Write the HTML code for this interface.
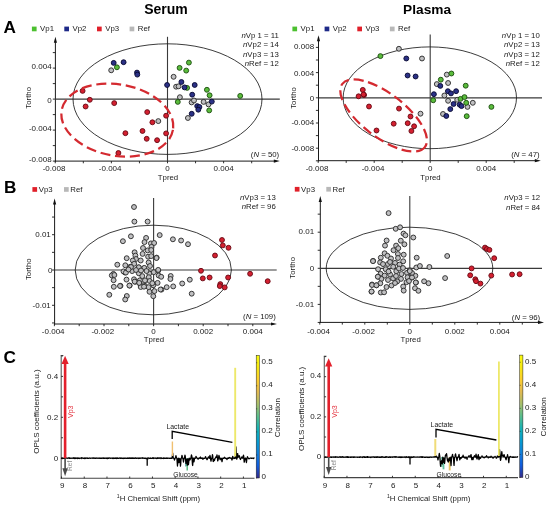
<!DOCTYPE html>
<html><head><meta charset="utf-8"><style>
html,body{margin:0;padding:0;background:#fff;}
body{width:550px;height:506px;overflow:hidden;font-family:"Liberation Sans",sans-serif;}
svg{display:block;will-change:transform;}
</style></head><body>
<svg width="550" height="506" viewBox="0 0 550 506" font-family="&quot;Liberation Sans&quot;, sans-serif">
<rect width="550" height="506" fill="#ffffff"/>
<text x="166" y="14.2" font-size="14" text-anchor="middle" font-weight="bold" fill="#000">Serum</text>
<text x="427.1" y="13.7" font-size="13.7" text-anchor="middle" font-weight="bold" fill="#000">Plasma</text>
<text x="3.4" y="32.7" font-size="17.2" text-anchor="start" font-weight="bold" fill="#000">A</text>
<text x="4" y="193.2" font-size="17.2" text-anchor="start" font-weight="bold" fill="#000">B</text>
<text x="3.6" y="362.9" font-size="17.2" text-anchor="start" font-weight="bold" fill="#000">C</text>
<line x1="55.4" y1="161.6" x2="55.4" y2="40.8" stroke="#1a1a1a" stroke-width="1"/>
<path d="M55.4 36.8 L53.8 42.8 L57 42.8 Z" fill="#111"/>
<line x1="54.9" y1="161.1" x2="275.8" y2="161.1" stroke="#1a1a1a" stroke-width="1"/>
<path d="M279.8 161.1 L273.8 159.5 L273.8 162.7 Z" fill="#111"/>
<line x1="52.8" y1="161.1" x2="55.4" y2="161.1" stroke="#1a1a1a" stroke-width="0.9"/>
<line x1="52.8" y1="145.6" x2="55.4" y2="145.6" stroke="#1a1a1a" stroke-width="0.9"/>
<line x1="52.8" y1="130.1" x2="55.4" y2="130.1" stroke="#1a1a1a" stroke-width="0.9"/>
<line x1="52.8" y1="114.6" x2="55.4" y2="114.6" stroke="#1a1a1a" stroke-width="0.9"/>
<line x1="52.8" y1="99.1" x2="55.4" y2="99.1" stroke="#1a1a1a" stroke-width="0.9"/>
<line x1="52.8" y1="83.6" x2="55.4" y2="83.6" stroke="#1a1a1a" stroke-width="0.9"/>
<line x1="52.8" y1="68.1" x2="55.4" y2="68.1" stroke="#1a1a1a" stroke-width="0.9"/>
<line x1="52.8" y1="52.6" x2="55.4" y2="52.6" stroke="#1a1a1a" stroke-width="0.9"/>
<text x="51.6" y="69.35" font-size="8" text-anchor="end" font-weight="normal" fill="#1a1a1a">0.004</text>
<text x="51.6" y="102.85" font-size="8" text-anchor="end" font-weight="normal" fill="#1a1a1a">0</text>
<text x="51.6" y="131.25" font-size="8" text-anchor="end" font-weight="normal" fill="#1a1a1a">-0.004</text>
<text x="51.6" y="162.25" font-size="8" text-anchor="end" font-weight="normal" fill="#1a1a1a">-0.008</text>
<line x1="55.26" y1="161.1" x2="55.26" y2="163.3" stroke="#1a1a1a" stroke-width="0.9"/>
<line x1="83.32" y1="161.1" x2="83.32" y2="163.3" stroke="#1a1a1a" stroke-width="0.9"/>
<line x1="111.38" y1="161.1" x2="111.38" y2="163.3" stroke="#1a1a1a" stroke-width="0.9"/>
<line x1="139.44" y1="161.1" x2="139.44" y2="163.3" stroke="#1a1a1a" stroke-width="0.9"/>
<line x1="167.5" y1="161.1" x2="167.5" y2="163.3" stroke="#1a1a1a" stroke-width="0.9"/>
<line x1="195.56" y1="161.1" x2="195.56" y2="163.3" stroke="#1a1a1a" stroke-width="0.9"/>
<line x1="223.62" y1="161.1" x2="223.62" y2="163.3" stroke="#1a1a1a" stroke-width="0.9"/>
<line x1="251.68" y1="161.1" x2="251.68" y2="163.3" stroke="#1a1a1a" stroke-width="0.9"/>
<text x="54.06" y="170.7" font-size="8" text-anchor="middle" font-weight="normal" fill="#1a1a1a">-0.008</text>
<text x="110.18" y="170.7" font-size="8" text-anchor="middle" font-weight="normal" fill="#1a1a1a">-0.004</text>
<text x="167.5" y="170.7" font-size="8" text-anchor="middle" font-weight="normal" fill="#1a1a1a">0</text>
<text x="223.62" y="170.7" font-size="8" text-anchor="middle" font-weight="normal" fill="#1a1a1a">0.004</text>
<line x1="55.4" y1="99.1" x2="279.8" y2="99.1" stroke="#3a3a3a" stroke-width="1.15"/>
<line x1="167.5" y1="36.8" x2="167.5" y2="161.1" stroke="#3a3a3a" stroke-width="1.1"/>
<ellipse cx="167.5" cy="99.1" rx="94.5" ry="55.3" fill="none" stroke="#1a1a1a" stroke-width="0.85"/>
<text x="31.2" y="97.8" font-size="7.8" text-anchor="middle" font-weight="normal" fill="#1a1a1a" transform="rotate(-90 31.2 97.8)">Tortho</text>
<text x="168" y="179.7" font-size="7.8" text-anchor="middle" font-weight="normal" fill="#1a1a1a">Tpred</text>
<rect x="31.9" y="26.6" width="4.7" height="4.7" fill="#4cc030"/>
<text x="40.1" y="31.2" font-size="7.8" text-anchor="start" font-weight="normal" fill="#1a1a1a">Vp1</text>
<rect x="64.3" y="26.6" width="4.7" height="4.7" fill="#1e2a88"/>
<text x="72.5" y="31.2" font-size="7.8" text-anchor="start" font-weight="normal" fill="#1a1a1a">Vp2</text>
<rect x="97" y="26.6" width="4.7" height="4.7" fill="#e0202a"/>
<text x="105.2" y="31.2" font-size="7.8" text-anchor="start" font-weight="normal" fill="#1a1a1a">Vp3</text>
<rect x="129.6" y="26.6" width="4.7" height="4.7" fill="#b8b8b8"/>
<text x="137.8" y="31.2" font-size="7.8" text-anchor="start" font-weight="normal" fill="#1a1a1a">Ref</text>
<text x="278.8" y="37.8" font-size="7.8" text-anchor="end" fill="#1a1a1a"><tspan font-style="italic">n</tspan>Vp 1 = 11</text>
<text x="278.8" y="47.2" font-size="7.8" text-anchor="end" fill="#1a1a1a"><tspan font-style="italic">n</tspan>Vp2 = 14</text>
<text x="278.8" y="56.6" font-size="7.8" text-anchor="end" fill="#1a1a1a"><tspan font-style="italic">n</tspan>Vp3 = 13</text>
<text x="278.8" y="66" font-size="7.8" text-anchor="end" fill="#1a1a1a"><tspan font-style="italic">n</tspan>Ref = 12</text>
<text x="279.2" y="157.3" font-size="7.8" text-anchor="end" fill="#1a1a1a">(<tspan font-style="italic">N</tspan> = 50)</text>
<circle cx="82.6" cy="90.9" r="2.45" fill="#d42030" stroke="#6a0a14" stroke-width="0.95"/>
<circle cx="89.8" cy="99.8" r="2.45" fill="#d42030" stroke="#6a0a14" stroke-width="0.95"/>
<circle cx="85.6" cy="106.5" r="2.45" fill="#d42030" stroke="#6a0a14" stroke-width="0.95"/>
<circle cx="114.2" cy="103.1" r="2.45" fill="#d42030" stroke="#6a0a14" stroke-width="0.95"/>
<circle cx="147.2" cy="112.1" r="2.45" fill="#d42030" stroke="#6a0a14" stroke-width="0.95"/>
<circle cx="166.1" cy="115.7" r="2.45" fill="#d42030" stroke="#6a0a14" stroke-width="0.95"/>
<circle cx="152.4" cy="122.3" r="2.45" fill="#d42030" stroke="#6a0a14" stroke-width="0.95"/>
<circle cx="125.4" cy="133.2" r="2.45" fill="#d42030" stroke="#6a0a14" stroke-width="0.95"/>
<circle cx="142.5" cy="131" r="2.45" fill="#d42030" stroke="#6a0a14" stroke-width="0.95"/>
<circle cx="166.1" cy="133.4" r="2.45" fill="#d42030" stroke="#6a0a14" stroke-width="0.95"/>
<circle cx="146.7" cy="138.8" r="2.45" fill="#d42030" stroke="#6a0a14" stroke-width="0.95"/>
<circle cx="157.1" cy="140.2" r="2.45" fill="#d42030" stroke="#6a0a14" stroke-width="0.95"/>
<circle cx="118.4" cy="153" r="2.45" fill="#d42030" stroke="#6a0a14" stroke-width="0.95"/>
<circle cx="111.2" cy="70.3" r="2.45" fill="#c0c0c2" stroke="#2e2e2e" stroke-width="0.95"/>
<circle cx="158.3" cy="121.1" r="2.45" fill="#c0c0c2" stroke="#2e2e2e" stroke-width="0.95"/>
<circle cx="173.6" cy="76.8" r="2.45" fill="#c0c0c2" stroke="#2e2e2e" stroke-width="0.95"/>
<circle cx="176.1" cy="86.7" r="2.45" fill="#c0c0c2" stroke="#2e2e2e" stroke-width="0.95"/>
<circle cx="178.6" cy="86.3" r="2.45" fill="#c0c0c2" stroke="#2e2e2e" stroke-width="0.95"/>
<circle cx="179.9" cy="97.2" r="2.45" fill="#c0c0c2" stroke="#2e2e2e" stroke-width="0.95"/>
<circle cx="191.6" cy="102.4" r="2.45" fill="#c0c0c2" stroke="#2e2e2e" stroke-width="0.95"/>
<circle cx="194" cy="100.5" r="2.45" fill="#c0c0c2" stroke="#2e2e2e" stroke-width="0.95"/>
<circle cx="203.6" cy="101.9" r="2.45" fill="#c0c0c2" stroke="#2e2e2e" stroke-width="0.95"/>
<circle cx="208.5" cy="104.4" r="2.45" fill="#c0c0c2" stroke="#2e2e2e" stroke-width="0.95"/>
<circle cx="187.9" cy="118" r="2.45" fill="#c0c0c2" stroke="#2e2e2e" stroke-width="0.95"/>
<circle cx="116.9" cy="67.3" r="2.45" fill="#5abc3c" stroke="#1d5010" stroke-width="0.95"/>
<circle cx="188.9" cy="62.6" r="2.45" fill="#5abc3c" stroke="#1d5010" stroke-width="0.95"/>
<circle cx="179.6" cy="67.9" r="2.45" fill="#5abc3c" stroke="#1d5010" stroke-width="0.95"/>
<circle cx="186.2" cy="70.6" r="2.45" fill="#5abc3c" stroke="#1d5010" stroke-width="0.95"/>
<circle cx="187.1" cy="87.9" r="2.45" fill="#5abc3c" stroke="#1d5010" stroke-width="0.95"/>
<circle cx="206.9" cy="89.8" r="2.45" fill="#5abc3c" stroke="#1d5010" stroke-width="0.95"/>
<circle cx="209.6" cy="95.3" r="2.45" fill="#5abc3c" stroke="#1d5010" stroke-width="0.95"/>
<circle cx="177.8" cy="101.9" r="2.45" fill="#5abc3c" stroke="#1d5010" stroke-width="0.95"/>
<circle cx="209.2" cy="110.4" r="2.45" fill="#5abc3c" stroke="#1d5010" stroke-width="0.95"/>
<circle cx="240.2" cy="95.9" r="2.45" fill="#5abc3c" stroke="#1d5010" stroke-width="0.95"/>
<circle cx="113.7" cy="62.9" r="2.45" fill="#2b3186" stroke="#080a34" stroke-width="0.95"/>
<circle cx="123.6" cy="62.2" r="2.45" fill="#2b3186" stroke="#080a34" stroke-width="0.95"/>
<circle cx="137" cy="72.6" r="2.45" fill="#2b3186" stroke="#080a34" stroke-width="0.95"/>
<circle cx="137.3" cy="74.6" r="2.45" fill="#2b3186" stroke="#080a34" stroke-width="0.95"/>
<circle cx="167.1" cy="85" r="2.45" fill="#2b3186" stroke="#080a34" stroke-width="0.95"/>
<circle cx="181.4" cy="82" r="2.45" fill="#2b3186" stroke="#080a34" stroke-width="0.95"/>
<circle cx="184.6" cy="87.4" r="2.45" fill="#2b3186" stroke="#080a34" stroke-width="0.95"/>
<circle cx="194.7" cy="85" r="2.45" fill="#2b3186" stroke="#080a34" stroke-width="0.95"/>
<circle cx="192.2" cy="94.7" r="2.45" fill="#2b3186" stroke="#080a34" stroke-width="0.95"/>
<circle cx="211.8" cy="101.6" r="2.45" fill="#2b3186" stroke="#080a34" stroke-width="0.95"/>
<circle cx="197.2" cy="106.1" r="2.45" fill="#2b3186" stroke="#080a34" stroke-width="0.95"/>
<circle cx="199.4" cy="107" r="2.45" fill="#2b3186" stroke="#080a34" stroke-width="0.95"/>
<circle cx="198.3" cy="109.7" r="2.45" fill="#2b3186" stroke="#080a34" stroke-width="0.95"/>
<circle cx="191.7" cy="113.8" r="2.45" fill="#2b3186" stroke="#080a34" stroke-width="0.95"/>
<ellipse cx="117.3" cy="120.1" rx="56.5" ry="35.7" transform="rotate(10 117.3 120.1)" fill="none" stroke="#d42a30" stroke-width="2.25" stroke-dasharray="10 4.8"/>
<line x1="318.5" y1="161.2" x2="318.5" y2="39.3" stroke="#1a1a1a" stroke-width="1"/>
<path d="M318.5 35.3 L316.9 41.3 L320.1 41.3 Z" fill="#111"/>
<line x1="318" y1="160.7" x2="536.8" y2="160.7" stroke="#1a1a1a" stroke-width="1"/>
<path d="M540.8 160.7 L534.8 159.1 L534.8 162.3 Z" fill="#111"/>
<line x1="315.9" y1="160.8" x2="318.5" y2="160.8" stroke="#1a1a1a" stroke-width="0.9"/>
<line x1="315.9" y1="148.2" x2="318.5" y2="148.2" stroke="#1a1a1a" stroke-width="0.9"/>
<line x1="315.9" y1="135.6" x2="318.5" y2="135.6" stroke="#1a1a1a" stroke-width="0.9"/>
<line x1="315.9" y1="123" x2="318.5" y2="123" stroke="#1a1a1a" stroke-width="0.9"/>
<line x1="315.9" y1="110.4" x2="318.5" y2="110.4" stroke="#1a1a1a" stroke-width="0.9"/>
<line x1="315.9" y1="97.8" x2="318.5" y2="97.8" stroke="#1a1a1a" stroke-width="0.9"/>
<line x1="315.9" y1="85.2" x2="318.5" y2="85.2" stroke="#1a1a1a" stroke-width="0.9"/>
<line x1="315.9" y1="72.6" x2="318.5" y2="72.6" stroke="#1a1a1a" stroke-width="0.9"/>
<line x1="315.9" y1="60" x2="318.5" y2="60" stroke="#1a1a1a" stroke-width="0.9"/>
<line x1="315.9" y1="47.4" x2="318.5" y2="47.4" stroke="#1a1a1a" stroke-width="0.9"/>
<text x="314.1" y="49.15" font-size="8" text-anchor="end" font-weight="normal" fill="#1a1a1a">0.008</text>
<text x="314.1" y="75.65" font-size="8" text-anchor="end" font-weight="normal" fill="#1a1a1a">0.004</text>
<text x="314.1" y="100.95" font-size="8" text-anchor="end" font-weight="normal" fill="#1a1a1a">0</text>
<text x="314.1" y="124.65" font-size="8" text-anchor="end" font-weight="normal" fill="#1a1a1a">-0.004</text>
<text x="314.1" y="150.65" font-size="8" text-anchor="end" font-weight="normal" fill="#1a1a1a">-0.008</text>
<line x1="318.2" y1="160.7" x2="318.2" y2="162.9" stroke="#1a1a1a" stroke-width="0.9"/>
<line x1="346.2" y1="160.7" x2="346.2" y2="162.9" stroke="#1a1a1a" stroke-width="0.9"/>
<line x1="374.2" y1="160.7" x2="374.2" y2="162.9" stroke="#1a1a1a" stroke-width="0.9"/>
<line x1="402.2" y1="160.7" x2="402.2" y2="162.9" stroke="#1a1a1a" stroke-width="0.9"/>
<line x1="430.2" y1="160.7" x2="430.2" y2="162.9" stroke="#1a1a1a" stroke-width="0.9"/>
<line x1="458.2" y1="160.7" x2="458.2" y2="162.9" stroke="#1a1a1a" stroke-width="0.9"/>
<line x1="486.2" y1="160.7" x2="486.2" y2="162.9" stroke="#1a1a1a" stroke-width="0.9"/>
<line x1="514.2" y1="160.7" x2="514.2" y2="162.9" stroke="#1a1a1a" stroke-width="0.9"/>
<text x="317" y="170.7" font-size="8" text-anchor="middle" font-weight="normal" fill="#1a1a1a">-0.008</text>
<text x="373" y="170.7" font-size="8" text-anchor="middle" font-weight="normal" fill="#1a1a1a">-0.004</text>
<text x="430.2" y="170.7" font-size="8" text-anchor="middle" font-weight="normal" fill="#1a1a1a">0</text>
<text x="486.2" y="170.7" font-size="8" text-anchor="middle" font-weight="normal" fill="#1a1a1a">0.004</text>
<line x1="318.5" y1="97.8" x2="542" y2="97.8" stroke="#3a3a3a" stroke-width="1.15"/>
<line x1="430.2" y1="34.6" x2="430.2" y2="160.7" stroke="#3a3a3a" stroke-width="1.1"/>
<ellipse cx="429.8" cy="97.8" rx="86.7" ry="50.9" fill="none" stroke="#1a1a1a" stroke-width="0.85"/>
<text x="295.8" y="98" font-size="7.8" text-anchor="middle" font-weight="normal" fill="#1a1a1a" transform="rotate(-90 295.8 98)">Tortho</text>
<text x="430.5" y="179.5" font-size="7.8" text-anchor="middle" font-weight="normal" fill="#1a1a1a">Tpred</text>
<rect x="292.4" y="26.6" width="4.7" height="4.7" fill="#4cc030"/>
<text x="300.6" y="31.2" font-size="7.8" text-anchor="start" font-weight="normal" fill="#1a1a1a">Vp1</text>
<rect x="324.6" y="26.6" width="4.7" height="4.7" fill="#1e2a88"/>
<text x="332.8" y="31.2" font-size="7.8" text-anchor="start" font-weight="normal" fill="#1a1a1a">Vp2</text>
<rect x="357.3" y="26.6" width="4.7" height="4.7" fill="#e0202a"/>
<text x="365.5" y="31.2" font-size="7.8" text-anchor="start" font-weight="normal" fill="#1a1a1a">Vp3</text>
<rect x="389.9" y="26.6" width="4.7" height="4.7" fill="#b8b8b8"/>
<text x="398.1" y="31.2" font-size="7.8" text-anchor="start" font-weight="normal" fill="#1a1a1a">Ref</text>
<text x="539.8" y="37.8" font-size="7.8" text-anchor="end" fill="#1a1a1a"><tspan font-style="italic">n</tspan>Vp 1 = 10</text>
<text x="539.8" y="47.2" font-size="7.8" text-anchor="end" fill="#1a1a1a"><tspan font-style="italic">n</tspan>Vp2 = 13</text>
<text x="539.8" y="56.6" font-size="7.8" text-anchor="end" fill="#1a1a1a"><tspan font-style="italic">n</tspan>Vp3 = 12</text>
<text x="539.8" y="66" font-size="7.8" text-anchor="end" fill="#1a1a1a"><tspan font-style="italic">n</tspan>Ref = 12</text>
<text x="539.6" y="157.4" font-size="7.8" text-anchor="end" fill="#1a1a1a">(<tspan font-style="italic">N</tspan> = 47)</text>
<circle cx="362.8" cy="89.9" r="2.45" fill="#d42030" stroke="#6a0a14" stroke-width="0.95"/>
<circle cx="358.6" cy="96.3" r="2.45" fill="#d42030" stroke="#6a0a14" stroke-width="0.95"/>
<circle cx="364.1" cy="95" r="2.45" fill="#d42030" stroke="#6a0a14" stroke-width="0.95"/>
<circle cx="369" cy="106.5" r="2.45" fill="#d42030" stroke="#6a0a14" stroke-width="0.95"/>
<circle cx="399" cy="108.6" r="2.45" fill="#d42030" stroke="#6a0a14" stroke-width="0.95"/>
<circle cx="410.5" cy="116.5" r="2.45" fill="#d42030" stroke="#6a0a14" stroke-width="0.95"/>
<circle cx="393.7" cy="123.7" r="2.45" fill="#d42030" stroke="#6a0a14" stroke-width="0.95"/>
<circle cx="407.7" cy="123.2" r="2.45" fill="#d42030" stroke="#6a0a14" stroke-width="0.95"/>
<circle cx="414.1" cy="126.3" r="2.45" fill="#d42030" stroke="#6a0a14" stroke-width="0.95"/>
<circle cx="411.4" cy="131" r="2.45" fill="#d42030" stroke="#6a0a14" stroke-width="0.95"/>
<circle cx="376.5" cy="130.5" r="2.45" fill="#d42030" stroke="#6a0a14" stroke-width="0.95"/>
<circle cx="363.5" cy="94.5" r="2.45" fill="#d42030" stroke="#6a0a14" stroke-width="0.95"/>
<circle cx="398.9" cy="48.8" r="2.45" fill="#c0c0c2" stroke="#2e2e2e" stroke-width="0.95"/>
<circle cx="422" cy="58.5" r="2.45" fill="#c0c0c2" stroke="#2e2e2e" stroke-width="0.95"/>
<circle cx="446.8" cy="74.6" r="2.45" fill="#c0c0c2" stroke="#2e2e2e" stroke-width="0.95"/>
<circle cx="436.8" cy="84.1" r="2.45" fill="#c0c0c2" stroke="#2e2e2e" stroke-width="0.95"/>
<circle cx="448.1" cy="83" r="2.45" fill="#c0c0c2" stroke="#2e2e2e" stroke-width="0.95"/>
<circle cx="444.4" cy="95.5" r="2.45" fill="#c0c0c2" stroke="#2e2e2e" stroke-width="0.95"/>
<circle cx="448.1" cy="100.8" r="2.45" fill="#c0c0c2" stroke="#2e2e2e" stroke-width="0.95"/>
<circle cx="457.2" cy="99.8" r="2.45" fill="#c0c0c2" stroke="#2e2e2e" stroke-width="0.95"/>
<circle cx="472.8" cy="102.8" r="2.45" fill="#c0c0c2" stroke="#2e2e2e" stroke-width="0.95"/>
<circle cx="467.5" cy="106.9" r="2.45" fill="#c0c0c2" stroke="#2e2e2e" stroke-width="0.95"/>
<circle cx="443" cy="114" r="2.45" fill="#c0c0c2" stroke="#2e2e2e" stroke-width="0.95"/>
<circle cx="420.5" cy="113.7" r="2.45" fill="#c0c0c2" stroke="#2e2e2e" stroke-width="0.95"/>
<circle cx="380.4" cy="56.1" r="2.45" fill="#5abc3c" stroke="#1d5010" stroke-width="0.95"/>
<circle cx="451.4" cy="73.5" r="2.45" fill="#5abc3c" stroke="#1d5010" stroke-width="0.95"/>
<circle cx="440.8" cy="79.7" r="2.45" fill="#5abc3c" stroke="#1d5010" stroke-width="0.95"/>
<circle cx="465.7" cy="85.7" r="2.45" fill="#5abc3c" stroke="#1d5010" stroke-width="0.95"/>
<circle cx="433.2" cy="100.3" r="2.45" fill="#5abc3c" stroke="#1d5010" stroke-width="0.95"/>
<circle cx="460.5" cy="98.9" r="2.45" fill="#5abc3c" stroke="#1d5010" stroke-width="0.95"/>
<circle cx="464.5" cy="97.1" r="2.45" fill="#5abc3c" stroke="#1d5010" stroke-width="0.95"/>
<circle cx="466.2" cy="102.8" r="2.45" fill="#5abc3c" stroke="#1d5010" stroke-width="0.95"/>
<circle cx="466.7" cy="116.2" r="2.45" fill="#5abc3c" stroke="#1d5010" stroke-width="0.95"/>
<circle cx="491.4" cy="106.9" r="2.45" fill="#5abc3c" stroke="#1d5010" stroke-width="0.95"/>
<circle cx="406.3" cy="58.5" r="2.45" fill="#2b3186" stroke="#080a34" stroke-width="0.95"/>
<circle cx="407.6" cy="75.5" r="2.45" fill="#2b3186" stroke="#080a34" stroke-width="0.95"/>
<circle cx="415.6" cy="76.5" r="2.45" fill="#2b3186" stroke="#080a34" stroke-width="0.95"/>
<circle cx="440.3" cy="85.9" r="2.45" fill="#2b3186" stroke="#080a34" stroke-width="0.95"/>
<circle cx="447.9" cy="91.2" r="2.45" fill="#2b3186" stroke="#080a34" stroke-width="0.95"/>
<circle cx="451" cy="93.4" r="2.45" fill="#2b3186" stroke="#080a34" stroke-width="0.95"/>
<circle cx="456.1" cy="91.2" r="2.45" fill="#2b3186" stroke="#080a34" stroke-width="0.95"/>
<circle cx="433.9" cy="94.2" r="2.45" fill="#2b3186" stroke="#080a34" stroke-width="0.95"/>
<circle cx="453.6" cy="104" r="2.45" fill="#2b3186" stroke="#080a34" stroke-width="0.95"/>
<circle cx="459.7" cy="104.7" r="2.45" fill="#2b3186" stroke="#080a34" stroke-width="0.95"/>
<circle cx="461.5" cy="106.1" r="2.45" fill="#2b3186" stroke="#080a34" stroke-width="0.95"/>
<circle cx="450.3" cy="109.1" r="2.45" fill="#2b3186" stroke="#080a34" stroke-width="0.95"/>
<circle cx="446.3" cy="116" r="2.45" fill="#2b3186" stroke="#080a34" stroke-width="0.95"/>
<ellipse cx="383.6" cy="115.5" rx="52" ry="21.8" transform="rotate(37.5 383.6 115.5)" fill="none" stroke="#d42a30" stroke-width="2.25" stroke-dasharray="10 4.8"/>
<line x1="54.6" y1="324.5" x2="54.6" y2="202.5" stroke="#1a1a1a" stroke-width="1"/>
<path d="M54.6 198.5 L53 204.5 L56.2 204.5 Z" fill="#111"/>
<line x1="54.1" y1="324" x2="273" y2="324" stroke="#1a1a1a" stroke-width="1"/>
<path d="M277 324 L271 322.4 L271 325.6 Z" fill="#111"/>
<line x1="52" y1="322.95" x2="54.6" y2="322.95" stroke="#1a1a1a" stroke-width="0.9"/>
<line x1="52" y1="305.3" x2="54.6" y2="305.3" stroke="#1a1a1a" stroke-width="0.9"/>
<line x1="52" y1="287.65" x2="54.6" y2="287.65" stroke="#1a1a1a" stroke-width="0.9"/>
<line x1="52" y1="270" x2="54.6" y2="270" stroke="#1a1a1a" stroke-width="0.9"/>
<line x1="52" y1="252.35" x2="54.6" y2="252.35" stroke="#1a1a1a" stroke-width="0.9"/>
<line x1="52" y1="234.7" x2="54.6" y2="234.7" stroke="#1a1a1a" stroke-width="0.9"/>
<line x1="52" y1="217.05" x2="54.6" y2="217.05" stroke="#1a1a1a" stroke-width="0.9"/>
<text x="50.8" y="236.75" font-size="8" text-anchor="end" font-weight="normal" fill="#1a1a1a">0.01</text>
<text x="52.4" y="272.85" font-size="8" text-anchor="end" font-weight="normal" fill="#1a1a1a">0</text>
<text x="50.8" y="308.15" font-size="8" text-anchor="end" font-weight="normal" fill="#1a1a1a">-0.01</text>
<line x1="54.4" y1="324" x2="54.4" y2="326.2" stroke="#1a1a1a" stroke-width="0.9"/>
<line x1="79.2" y1="324" x2="79.2" y2="326.2" stroke="#1a1a1a" stroke-width="0.9"/>
<line x1="104" y1="324" x2="104" y2="326.2" stroke="#1a1a1a" stroke-width="0.9"/>
<line x1="128.8" y1="324" x2="128.8" y2="326.2" stroke="#1a1a1a" stroke-width="0.9"/>
<line x1="153.6" y1="324" x2="153.6" y2="326.2" stroke="#1a1a1a" stroke-width="0.9"/>
<line x1="178.4" y1="324" x2="178.4" y2="326.2" stroke="#1a1a1a" stroke-width="0.9"/>
<line x1="203.2" y1="324" x2="203.2" y2="326.2" stroke="#1a1a1a" stroke-width="0.9"/>
<line x1="228" y1="324" x2="228" y2="326.2" stroke="#1a1a1a" stroke-width="0.9"/>
<line x1="252.8" y1="324" x2="252.8" y2="326.2" stroke="#1a1a1a" stroke-width="0.9"/>
<text x="53.2" y="334.1" font-size="8" text-anchor="middle" font-weight="normal" fill="#1a1a1a">-0.004</text>
<text x="102.8" y="334.1" font-size="8" text-anchor="middle" font-weight="normal" fill="#1a1a1a">-0.002</text>
<text x="153.6" y="334.1" font-size="8" text-anchor="middle" font-weight="normal" fill="#1a1a1a">0</text>
<text x="203.2" y="334.1" font-size="8" text-anchor="middle" font-weight="normal" fill="#1a1a1a">0.002</text>
<text x="252.8" y="334.1" font-size="8" text-anchor="middle" font-weight="normal" fill="#1a1a1a">0.004</text>
<line x1="54.6" y1="270" x2="276.7" y2="270" stroke="#3a3a3a" stroke-width="1.15"/>
<line x1="153.6" y1="198" x2="153.6" y2="324" stroke="#3a3a3a" stroke-width="1.1"/>
<ellipse cx="153.3" cy="270" rx="78.1" ry="44.8" fill="none" stroke="#1a1a1a" stroke-width="0.85"/>
<text x="31.4" y="269.2" font-size="7.8" text-anchor="middle" font-weight="normal" fill="#1a1a1a" transform="rotate(-90 31.4 269.2)">Tortho</text>
<text x="154" y="342.3" font-size="7.8" text-anchor="middle" font-weight="normal" fill="#1a1a1a">Tpred</text>
<rect x="32.4" y="187.1" width="4.7" height="4.7" fill="#e0202a"/>
<text x="38.7" y="191.7" font-size="7.8" text-anchor="start" font-weight="normal" fill="#1a1a1a">Vp3</text>
<rect x="64" y="187.1" width="4.7" height="4.7" fill="#b8b8b8"/>
<text x="70.3" y="191.7" font-size="7.8" text-anchor="start" font-weight="normal" fill="#1a1a1a">Ref</text>
<text x="275.8" y="200" font-size="7.8" text-anchor="end" fill="#1a1a1a"><tspan font-style="italic">n</tspan>Vp3 = 13</text>
<text x="275.8" y="209.4" font-size="7.8" text-anchor="end" fill="#1a1a1a"><tspan font-style="italic">n</tspan>Ref = 96</text>
<text x="275.8" y="319.2" font-size="7.8" text-anchor="end" fill="#1a1a1a">(<tspan font-style="italic">N</tspan> = 109)</text>
<circle cx="134" cy="207" r="2.45" fill="#c0c0c2" stroke="#2e2e2e" stroke-width="0.95"/>
<circle cx="134.4" cy="221.6" r="2.45" fill="#c0c0c2" stroke="#2e2e2e" stroke-width="0.95"/>
<circle cx="147.6" cy="221.6" r="2.45" fill="#c0c0c2" stroke="#2e2e2e" stroke-width="0.95"/>
<circle cx="130.9" cy="236.3" r="2.45" fill="#c0c0c2" stroke="#2e2e2e" stroke-width="0.95"/>
<circle cx="122.9" cy="241.2" r="2.45" fill="#c0c0c2" stroke="#2e2e2e" stroke-width="0.95"/>
<circle cx="146.1" cy="237.9" r="2.45" fill="#c0c0c2" stroke="#2e2e2e" stroke-width="0.95"/>
<circle cx="144.5" cy="242.1" r="2.45" fill="#c0c0c2" stroke="#2e2e2e" stroke-width="0.95"/>
<circle cx="159.7" cy="235.1" r="2.45" fill="#c0c0c2" stroke="#2e2e2e" stroke-width="0.95"/>
<circle cx="172.9" cy="239.3" r="2.45" fill="#c0c0c2" stroke="#2e2e2e" stroke-width="0.95"/>
<circle cx="181.1" cy="240.5" r="2.45" fill="#c0c0c2" stroke="#2e2e2e" stroke-width="0.95"/>
<circle cx="188" cy="244.2" r="2.45" fill="#c0c0c2" stroke="#2e2e2e" stroke-width="0.95"/>
<circle cx="150.9" cy="243.4" r="2.45" fill="#c0c0c2" stroke="#2e2e2e" stroke-width="0.95"/>
<circle cx="154.1" cy="243" r="2.45" fill="#c0c0c2" stroke="#2e2e2e" stroke-width="0.95"/>
<circle cx="151.5" cy="246.9" r="2.45" fill="#c0c0c2" stroke="#2e2e2e" stroke-width="0.95"/>
<circle cx="147.7" cy="250.4" r="2.45" fill="#c0c0c2" stroke="#2e2e2e" stroke-width="0.95"/>
<circle cx="134.6" cy="252.3" r="2.45" fill="#c0c0c2" stroke="#2e2e2e" stroke-width="0.95"/>
<circle cx="142.6" cy="253.9" r="2.45" fill="#c0c0c2" stroke="#2e2e2e" stroke-width="0.95"/>
<circle cx="135.4" cy="255.6" r="2.45" fill="#c0c0c2" stroke="#2e2e2e" stroke-width="0.95"/>
<circle cx="148.1" cy="256.7" r="2.45" fill="#c0c0c2" stroke="#2e2e2e" stroke-width="0.95"/>
<circle cx="151.2" cy="256.1" r="2.45" fill="#c0c0c2" stroke="#2e2e2e" stroke-width="0.95"/>
<circle cx="156.6" cy="257.6" r="2.45" fill="#c0c0c2" stroke="#2e2e2e" stroke-width="0.95"/>
<circle cx="126.7" cy="258.2" r="2.45" fill="#c0c0c2" stroke="#2e2e2e" stroke-width="0.95"/>
<circle cx="136" cy="259" r="2.45" fill="#c0c0c2" stroke="#2e2e2e" stroke-width="0.95"/>
<circle cx="140.7" cy="260.5" r="2.45" fill="#c0c0c2" stroke="#2e2e2e" stroke-width="0.95"/>
<circle cx="148.6" cy="262.5" r="2.45" fill="#c0c0c2" stroke="#2e2e2e" stroke-width="0.95"/>
<circle cx="132.8" cy="260.5" r="2.45" fill="#c0c0c2" stroke="#2e2e2e" stroke-width="0.95"/>
<circle cx="134.2" cy="263.8" r="2.45" fill="#c0c0c2" stroke="#2e2e2e" stroke-width="0.95"/>
<circle cx="125.3" cy="265.3" r="2.45" fill="#c0c0c2" stroke="#2e2e2e" stroke-width="0.95"/>
<circle cx="117.3" cy="264.7" r="2.45" fill="#c0c0c2" stroke="#2e2e2e" stroke-width="0.95"/>
<circle cx="130.3" cy="266.7" r="2.45" fill="#c0c0c2" stroke="#2e2e2e" stroke-width="0.95"/>
<circle cx="138.7" cy="267.4" r="2.45" fill="#c0c0c2" stroke="#2e2e2e" stroke-width="0.95"/>
<circle cx="144" cy="268.3" r="2.45" fill="#c0c0c2" stroke="#2e2e2e" stroke-width="0.95"/>
<circle cx="124.9" cy="272.5" r="2.45" fill="#c0c0c2" stroke="#2e2e2e" stroke-width="0.95"/>
<circle cx="132.1" cy="271.1" r="2.45" fill="#c0c0c2" stroke="#2e2e2e" stroke-width="0.95"/>
<circle cx="113.4" cy="273.9" r="2.45" fill="#c0c0c2" stroke="#2e2e2e" stroke-width="0.95"/>
<circle cx="149.2" cy="273.5" r="2.45" fill="#c0c0c2" stroke="#2e2e2e" stroke-width="0.95"/>
<circle cx="153.8" cy="272.2" r="2.45" fill="#c0c0c2" stroke="#2e2e2e" stroke-width="0.95"/>
<circle cx="158.2" cy="270.7" r="2.45" fill="#c0c0c2" stroke="#2e2e2e" stroke-width="0.95"/>
<circle cx="138.8" cy="273.3" r="2.45" fill="#c0c0c2" stroke="#2e2e2e" stroke-width="0.95"/>
<circle cx="142.3" cy="276.1" r="2.45" fill="#c0c0c2" stroke="#2e2e2e" stroke-width="0.95"/>
<circle cx="148.8" cy="277.2" r="2.45" fill="#c0c0c2" stroke="#2e2e2e" stroke-width="0.95"/>
<circle cx="158.7" cy="275.5" r="2.45" fill="#c0c0c2" stroke="#2e2e2e" stroke-width="0.95"/>
<circle cx="161.2" cy="276.8" r="2.45" fill="#c0c0c2" stroke="#2e2e2e" stroke-width="0.95"/>
<circle cx="170.7" cy="276" r="2.45" fill="#c0c0c2" stroke="#2e2e2e" stroke-width="0.95"/>
<circle cx="170.4" cy="279" r="2.45" fill="#c0c0c2" stroke="#2e2e2e" stroke-width="0.95"/>
<circle cx="111.8" cy="275.4" r="2.45" fill="#c0c0c2" stroke="#2e2e2e" stroke-width="0.95"/>
<circle cx="114.4" cy="275" r="2.45" fill="#c0c0c2" stroke="#2e2e2e" stroke-width="0.95"/>
<circle cx="113.6" cy="280.2" r="2.45" fill="#c0c0c2" stroke="#2e2e2e" stroke-width="0.95"/>
<circle cx="126.5" cy="279.6" r="2.45" fill="#c0c0c2" stroke="#2e2e2e" stroke-width="0.95"/>
<circle cx="134" cy="279.3" r="2.45" fill="#c0c0c2" stroke="#2e2e2e" stroke-width="0.95"/>
<circle cx="135.3" cy="281.8" r="2.45" fill="#c0c0c2" stroke="#2e2e2e" stroke-width="0.95"/>
<circle cx="129.7" cy="285.5" r="2.45" fill="#c0c0c2" stroke="#2e2e2e" stroke-width="0.95"/>
<circle cx="139.9" cy="283.6" r="2.45" fill="#c0c0c2" stroke="#2e2e2e" stroke-width="0.95"/>
<circle cx="140.7" cy="287" r="2.45" fill="#c0c0c2" stroke="#2e2e2e" stroke-width="0.95"/>
<circle cx="144.9" cy="285.8" r="2.45" fill="#c0c0c2" stroke="#2e2e2e" stroke-width="0.95"/>
<circle cx="148.6" cy="287.2" r="2.45" fill="#c0c0c2" stroke="#2e2e2e" stroke-width="0.95"/>
<circle cx="153.3" cy="285.3" r="2.45" fill="#c0c0c2" stroke="#2e2e2e" stroke-width="0.95"/>
<circle cx="157.6" cy="282.9" r="2.45" fill="#c0c0c2" stroke="#2e2e2e" stroke-width="0.95"/>
<circle cx="161.5" cy="289.6" r="2.45" fill="#c0c0c2" stroke="#2e2e2e" stroke-width="0.95"/>
<circle cx="166.7" cy="287.2" r="2.45" fill="#c0c0c2" stroke="#2e2e2e" stroke-width="0.95"/>
<circle cx="173.2" cy="286.4" r="2.45" fill="#c0c0c2" stroke="#2e2e2e" stroke-width="0.95"/>
<circle cx="149.5" cy="291.8" r="2.45" fill="#c0c0c2" stroke="#2e2e2e" stroke-width="0.95"/>
<circle cx="154.4" cy="291.1" r="2.45" fill="#c0c0c2" stroke="#2e2e2e" stroke-width="0.95"/>
<circle cx="153.3" cy="296.2" r="2.45" fill="#c0c0c2" stroke="#2e2e2e" stroke-width="0.95"/>
<circle cx="126.8" cy="296" r="2.45" fill="#c0c0c2" stroke="#2e2e2e" stroke-width="0.95"/>
<circle cx="125.2" cy="299.5" r="2.45" fill="#c0c0c2" stroke="#2e2e2e" stroke-width="0.95"/>
<circle cx="120.5" cy="285.8" r="2.45" fill="#c0c0c2" stroke="#2e2e2e" stroke-width="0.95"/>
<circle cx="113.8" cy="286.8" r="2.45" fill="#c0c0c2" stroke="#2e2e2e" stroke-width="0.95"/>
<circle cx="120" cy="286" r="2.45" fill="#c0c0c2" stroke="#2e2e2e" stroke-width="0.95"/>
<circle cx="109.3" cy="294.8" r="2.45" fill="#c0c0c2" stroke="#2e2e2e" stroke-width="0.95"/>
<circle cx="182.2" cy="283.5" r="2.45" fill="#c0c0c2" stroke="#2e2e2e" stroke-width="0.95"/>
<circle cx="189.8" cy="279.7" r="2.45" fill="#c0c0c2" stroke="#2e2e2e" stroke-width="0.95"/>
<circle cx="191.7" cy="293.7" r="2.45" fill="#c0c0c2" stroke="#2e2e2e" stroke-width="0.95"/>
<circle cx="158.2" cy="269.9" r="2.45" fill="#c0c0c2" stroke="#2e2e2e" stroke-width="0.95"/>
<circle cx="156.5" cy="258" r="2.45" fill="#c0c0c2" stroke="#2e2e2e" stroke-width="0.95"/>
<circle cx="145" cy="280.4" r="2.45" fill="#c0c0c2" stroke="#2e2e2e" stroke-width="0.95"/>
<circle cx="149.7" cy="281" r="2.45" fill="#c0c0c2" stroke="#2e2e2e" stroke-width="0.95"/>
<circle cx="152.3" cy="283.2" r="2.45" fill="#c0c0c2" stroke="#2e2e2e" stroke-width="0.95"/>
<circle cx="144" cy="286.7" r="2.45" fill="#c0c0c2" stroke="#2e2e2e" stroke-width="0.95"/>
<circle cx="160.5" cy="289.5" r="2.45" fill="#c0c0c2" stroke="#2e2e2e" stroke-width="0.95"/>
<circle cx="123.5" cy="271.4" r="2.45" fill="#c0c0c2" stroke="#2e2e2e" stroke-width="0.95"/>
<circle cx="125.9" cy="272.6" r="2.45" fill="#c0c0c2" stroke="#2e2e2e" stroke-width="0.95"/>
<circle cx="139.8" cy="280.4" r="2.45" fill="#c0c0c2" stroke="#2e2e2e" stroke-width="0.95"/>
<circle cx="134.7" cy="281.6" r="2.45" fill="#c0c0c2" stroke="#2e2e2e" stroke-width="0.95"/>
<circle cx="139.2" cy="282.9" r="2.45" fill="#c0c0c2" stroke="#2e2e2e" stroke-width="0.95"/>
<circle cx="144.3" cy="267.9" r="2.45" fill="#c0c0c2" stroke="#2e2e2e" stroke-width="0.95"/>
<circle cx="138.8" cy="267.3" r="2.45" fill="#c0c0c2" stroke="#2e2e2e" stroke-width="0.95"/>
<circle cx="131" cy="267" r="2.45" fill="#c0c0c2" stroke="#2e2e2e" stroke-width="0.95"/>
<circle cx="128.5" cy="269.5" r="2.45" fill="#c0c0c2" stroke="#2e2e2e" stroke-width="0.95"/>
<circle cx="136" cy="270" r="2.45" fill="#c0c0c2" stroke="#2e2e2e" stroke-width="0.95"/>
<circle cx="141" cy="270.5" r="2.45" fill="#c0c0c2" stroke="#2e2e2e" stroke-width="0.95"/>
<circle cx="146.5" cy="271" r="2.45" fill="#c0c0c2" stroke="#2e2e2e" stroke-width="0.95"/>
<circle cx="150" cy="266" r="2.45" fill="#c0c0c2" stroke="#2e2e2e" stroke-width="0.95"/>
<circle cx="129.4" cy="285.6" r="2.45" fill="#c0c0c2" stroke="#2e2e2e" stroke-width="0.95"/>
<circle cx="151.2" cy="250" r="2.45" fill="#c0c0c2" stroke="#2e2e2e" stroke-width="0.95"/>
<circle cx="143" cy="248" r="2.45" fill="#c0c0c2" stroke="#2e2e2e" stroke-width="0.95"/>
<circle cx="222" cy="240" r="2.45" fill="#d42030" stroke="#6a0a14" stroke-width="0.95"/>
<circle cx="222.8" cy="245.4" r="2.45" fill="#d42030" stroke="#6a0a14" stroke-width="0.95"/>
<circle cx="228.5" cy="247.8" r="2.45" fill="#d42030" stroke="#6a0a14" stroke-width="0.95"/>
<circle cx="215" cy="255.5" r="2.45" fill="#d42030" stroke="#6a0a14" stroke-width="0.95"/>
<circle cx="201" cy="270.8" r="2.45" fill="#d42030" stroke="#6a0a14" stroke-width="0.95"/>
<circle cx="202.8" cy="278.4" r="2.45" fill="#d42030" stroke="#6a0a14" stroke-width="0.95"/>
<circle cx="209.6" cy="277.5" r="2.45" fill="#d42030" stroke="#6a0a14" stroke-width="0.95"/>
<circle cx="228.1" cy="277.5" r="2.45" fill="#d42030" stroke="#6a0a14" stroke-width="0.95"/>
<circle cx="220.3" cy="284.1" r="2.45" fill="#d42030" stroke="#6a0a14" stroke-width="0.95"/>
<circle cx="219.8" cy="286.1" r="2.45" fill="#d42030" stroke="#6a0a14" stroke-width="0.95"/>
<circle cx="224.7" cy="287.4" r="2.45" fill="#d42030" stroke="#6a0a14" stroke-width="0.95"/>
<circle cx="250.1" cy="273.8" r="2.45" fill="#d42030" stroke="#6a0a14" stroke-width="0.95"/>
<circle cx="267.7" cy="281.2" r="2.45" fill="#d42030" stroke="#6a0a14" stroke-width="0.95"/>
<line x1="320.3" y1="322.9" x2="320.3" y2="199.9" stroke="#1a1a1a" stroke-width="1"/>
<path d="M320.3 195.9 L318.7 201.9 L321.9 201.9 Z" fill="#111"/>
<line x1="319.8" y1="322.4" x2="540" y2="322.4" stroke="#1a1a1a" stroke-width="1"/>
<path d="M544 322.4 L538 320.8 L538 324 Z" fill="#111"/>
<line x1="317.7" y1="322.45" x2="320.3" y2="322.45" stroke="#1a1a1a" stroke-width="0.9"/>
<line x1="317.7" y1="304.4" x2="320.3" y2="304.4" stroke="#1a1a1a" stroke-width="0.9"/>
<line x1="317.7" y1="286.35" x2="320.3" y2="286.35" stroke="#1a1a1a" stroke-width="0.9"/>
<line x1="317.7" y1="268.3" x2="320.3" y2="268.3" stroke="#1a1a1a" stroke-width="0.9"/>
<line x1="317.7" y1="250.25" x2="320.3" y2="250.25" stroke="#1a1a1a" stroke-width="0.9"/>
<line x1="317.7" y1="232.2" x2="320.3" y2="232.2" stroke="#1a1a1a" stroke-width="0.9"/>
<line x1="317.7" y1="214.15" x2="320.3" y2="214.15" stroke="#1a1a1a" stroke-width="0.9"/>
<text x="314.1" y="234.45" font-size="8" text-anchor="end" font-weight="normal" fill="#1a1a1a">0.01</text>
<text x="314.1" y="271.15" font-size="8" text-anchor="end" font-weight="normal" fill="#1a1a1a">0</text>
<text x="314.1" y="307.25" font-size="8" text-anchor="end" font-weight="normal" fill="#1a1a1a">-0.01</text>
<line x1="319.8" y1="322.4" x2="319.8" y2="324.6" stroke="#1a1a1a" stroke-width="0.9"/>
<line x1="342.3" y1="322.4" x2="342.3" y2="324.6" stroke="#1a1a1a" stroke-width="0.9"/>
<line x1="364.8" y1="322.4" x2="364.8" y2="324.6" stroke="#1a1a1a" stroke-width="0.9"/>
<line x1="387.3" y1="322.4" x2="387.3" y2="324.6" stroke="#1a1a1a" stroke-width="0.9"/>
<line x1="409.8" y1="322.4" x2="409.8" y2="324.6" stroke="#1a1a1a" stroke-width="0.9"/>
<line x1="432.3" y1="322.4" x2="432.3" y2="324.6" stroke="#1a1a1a" stroke-width="0.9"/>
<line x1="454.8" y1="322.4" x2="454.8" y2="324.6" stroke="#1a1a1a" stroke-width="0.9"/>
<line x1="477.3" y1="322.4" x2="477.3" y2="324.6" stroke="#1a1a1a" stroke-width="0.9"/>
<line x1="499.8" y1="322.4" x2="499.8" y2="324.6" stroke="#1a1a1a" stroke-width="0.9"/>
<line x1="522.3" y1="322.4" x2="522.3" y2="324.6" stroke="#1a1a1a" stroke-width="0.9"/>
<text x="318.6" y="334.2" font-size="8" text-anchor="middle" font-weight="normal" fill="#1a1a1a">-0.004</text>
<text x="363.6" y="334.2" font-size="8" text-anchor="middle" font-weight="normal" fill="#1a1a1a">-0.002</text>
<text x="409.8" y="334.2" font-size="8" text-anchor="middle" font-weight="normal" fill="#1a1a1a">0</text>
<text x="454.8" y="334.2" font-size="8" text-anchor="middle" font-weight="normal" fill="#1a1a1a">0.002</text>
<text x="499.8" y="334.2" font-size="8" text-anchor="middle" font-weight="normal" fill="#1a1a1a">0.004</text>
<line x1="320.3" y1="268.3" x2="542" y2="268.3" stroke="#3a3a3a" stroke-width="1.15"/>
<line x1="409.8" y1="196" x2="409.8" y2="322.4" stroke="#3a3a3a" stroke-width="1.1"/>
<ellipse cx="409.5" cy="268.3" rx="83.3" ry="41.1" fill="none" stroke="#1a1a1a" stroke-width="0.85"/>
<text x="295.5" y="267.8" font-size="7.8" text-anchor="middle" font-weight="normal" fill="#1a1a1a" transform="rotate(-90 295.5 267.8)">Tortho</text>
<text x="410.6" y="342.3" font-size="7.8" text-anchor="middle" font-weight="normal" fill="#1a1a1a">Tpred</text>
<rect x="294.8" y="186.9" width="4.7" height="4.7" fill="#e0202a"/>
<text x="301.1" y="191.5" font-size="7.8" text-anchor="start" font-weight="normal" fill="#1a1a1a">Vp3</text>
<rect x="326.3" y="186.9" width="4.7" height="4.7" fill="#b8b8b8"/>
<text x="332.6" y="191.5" font-size="7.8" text-anchor="start" font-weight="normal" fill="#1a1a1a">Ref</text>
<text x="540.1" y="200.2" font-size="7.8" text-anchor="end" fill="#1a1a1a"><tspan font-style="italic">n</tspan>Vp3 = 12</text>
<text x="540.1" y="209.6" font-size="7.8" text-anchor="end" fill="#1a1a1a"><tspan font-style="italic">n</tspan>Ref = 84</text>
<text x="540.2" y="319.5" font-size="7.8" text-anchor="end" fill="#1a1a1a">(<tspan font-style="italic">N</tspan> = 96)</text>
<circle cx="388.6" cy="213.1" r="2.45" fill="#c0c0c2" stroke="#2e2e2e" stroke-width="0.95"/>
<circle cx="395.7" cy="228.8" r="2.45" fill="#c0c0c2" stroke="#2e2e2e" stroke-width="0.95"/>
<circle cx="400.1" cy="227.3" r="2.45" fill="#c0c0c2" stroke="#2e2e2e" stroke-width="0.95"/>
<circle cx="403.5" cy="233.6" r="2.45" fill="#c0c0c2" stroke="#2e2e2e" stroke-width="0.95"/>
<circle cx="405.4" cy="235.3" r="2.45" fill="#c0c0c2" stroke="#2e2e2e" stroke-width="0.95"/>
<circle cx="413.3" cy="237.5" r="2.45" fill="#c0c0c2" stroke="#2e2e2e" stroke-width="0.95"/>
<circle cx="400.8" cy="240.7" r="2.45" fill="#c0c0c2" stroke="#2e2e2e" stroke-width="0.95"/>
<circle cx="404.4" cy="244.3" r="2.45" fill="#c0c0c2" stroke="#2e2e2e" stroke-width="0.95"/>
<circle cx="386.6" cy="240.5" r="2.45" fill="#c0c0c2" stroke="#2e2e2e" stroke-width="0.95"/>
<circle cx="385" cy="245.6" r="2.45" fill="#c0c0c2" stroke="#2e2e2e" stroke-width="0.95"/>
<circle cx="396.1" cy="245.6" r="2.45" fill="#c0c0c2" stroke="#2e2e2e" stroke-width="0.95"/>
<circle cx="398.3" cy="248.2" r="2.45" fill="#c0c0c2" stroke="#2e2e2e" stroke-width="0.95"/>
<circle cx="393.5" cy="250.2" r="2.45" fill="#c0c0c2" stroke="#2e2e2e" stroke-width="0.95"/>
<circle cx="384.6" cy="253.3" r="2.45" fill="#c0c0c2" stroke="#2e2e2e" stroke-width="0.95"/>
<circle cx="387.4" cy="255.8" r="2.45" fill="#c0c0c2" stroke="#2e2e2e" stroke-width="0.95"/>
<circle cx="397.9" cy="254" r="2.45" fill="#c0c0c2" stroke="#2e2e2e" stroke-width="0.95"/>
<circle cx="403.7" cy="254.7" r="2.45" fill="#c0c0c2" stroke="#2e2e2e" stroke-width="0.95"/>
<circle cx="380.8" cy="257.7" r="2.45" fill="#c0c0c2" stroke="#2e2e2e" stroke-width="0.95"/>
<circle cx="373.1" cy="260.9" r="2.45" fill="#c0c0c2" stroke="#2e2e2e" stroke-width="0.95"/>
<circle cx="380.1" cy="262.4" r="2.45" fill="#c0c0c2" stroke="#2e2e2e" stroke-width="0.95"/>
<circle cx="383" cy="264.1" r="2.45" fill="#c0c0c2" stroke="#2e2e2e" stroke-width="0.95"/>
<circle cx="387.9" cy="264" r="2.45" fill="#c0c0c2" stroke="#2e2e2e" stroke-width="0.95"/>
<circle cx="395" cy="262.9" r="2.45" fill="#c0c0c2" stroke="#2e2e2e" stroke-width="0.95"/>
<circle cx="403.2" cy="261.3" r="2.45" fill="#c0c0c2" stroke="#2e2e2e" stroke-width="0.95"/>
<circle cx="399.6" cy="264.6" r="2.45" fill="#c0c0c2" stroke="#2e2e2e" stroke-width="0.95"/>
<circle cx="393.2" cy="266.8" r="2.45" fill="#c0c0c2" stroke="#2e2e2e" stroke-width="0.95"/>
<circle cx="416.7" cy="257.7" r="2.45" fill="#c0c0c2" stroke="#2e2e2e" stroke-width="0.95"/>
<circle cx="447.2" cy="256" r="2.45" fill="#c0c0c2" stroke="#2e2e2e" stroke-width="0.95"/>
<circle cx="416.3" cy="267.5" r="2.45" fill="#c0c0c2" stroke="#2e2e2e" stroke-width="0.95"/>
<circle cx="419.9" cy="266" r="2.45" fill="#c0c0c2" stroke="#2e2e2e" stroke-width="0.95"/>
<circle cx="429.4" cy="267" r="2.45" fill="#c0c0c2" stroke="#2e2e2e" stroke-width="0.95"/>
<circle cx="378.1" cy="269.2" r="2.45" fill="#c0c0c2" stroke="#2e2e2e" stroke-width="0.95"/>
<circle cx="385.7" cy="269.2" r="2.45" fill="#c0c0c2" stroke="#2e2e2e" stroke-width="0.95"/>
<circle cx="396.3" cy="271.2" r="2.45" fill="#c0c0c2" stroke="#2e2e2e" stroke-width="0.95"/>
<circle cx="409.7" cy="270.3" r="2.45" fill="#c0c0c2" stroke="#2e2e2e" stroke-width="0.95"/>
<circle cx="380.6" cy="273.8" r="2.45" fill="#c0c0c2" stroke="#2e2e2e" stroke-width="0.95"/>
<circle cx="384.6" cy="275.6" r="2.45" fill="#c0c0c2" stroke="#2e2e2e" stroke-width="0.95"/>
<circle cx="390.1" cy="274.5" r="2.45" fill="#c0c0c2" stroke="#2e2e2e" stroke-width="0.95"/>
<circle cx="401.5" cy="274" r="2.45" fill="#c0c0c2" stroke="#2e2e2e" stroke-width="0.95"/>
<circle cx="407" cy="272.9" r="2.45" fill="#c0c0c2" stroke="#2e2e2e" stroke-width="0.95"/>
<circle cx="378.1" cy="276.7" r="2.45" fill="#c0c0c2" stroke="#2e2e2e" stroke-width="0.95"/>
<circle cx="381.4" cy="278.9" r="2.45" fill="#c0c0c2" stroke="#2e2e2e" stroke-width="0.95"/>
<circle cx="393.1" cy="278.4" r="2.45" fill="#c0c0c2" stroke="#2e2e2e" stroke-width="0.95"/>
<circle cx="401" cy="278.9" r="2.45" fill="#c0c0c2" stroke="#2e2e2e" stroke-width="0.95"/>
<circle cx="407.5" cy="277.3" r="2.45" fill="#c0c0c2" stroke="#2e2e2e" stroke-width="0.95"/>
<circle cx="411.9" cy="277.4" r="2.45" fill="#c0c0c2" stroke="#2e2e2e" stroke-width="0.95"/>
<circle cx="415.4" cy="275.8" r="2.45" fill="#c0c0c2" stroke="#2e2e2e" stroke-width="0.95"/>
<circle cx="397.2" cy="281.4" r="2.45" fill="#c0c0c2" stroke="#2e2e2e" stroke-width="0.95"/>
<circle cx="406.5" cy="282.2" r="2.45" fill="#c0c0c2" stroke="#2e2e2e" stroke-width="0.95"/>
<circle cx="380.3" cy="283.3" r="2.45" fill="#c0c0c2" stroke="#2e2e2e" stroke-width="0.95"/>
<circle cx="372" cy="284.5" r="2.45" fill="#c0c0c2" stroke="#2e2e2e" stroke-width="0.95"/>
<circle cx="376.5" cy="285.3" r="2.45" fill="#c0c0c2" stroke="#2e2e2e" stroke-width="0.95"/>
<circle cx="391.5" cy="285.5" r="2.45" fill="#c0c0c2" stroke="#2e2e2e" stroke-width="0.95"/>
<circle cx="403.2" cy="286.5" r="2.45" fill="#c0c0c2" stroke="#2e2e2e" stroke-width="0.95"/>
<circle cx="403.7" cy="290.6" r="2.45" fill="#c0c0c2" stroke="#2e2e2e" stroke-width="0.95"/>
<circle cx="416" cy="282.5" r="2.45" fill="#c0c0c2" stroke="#2e2e2e" stroke-width="0.95"/>
<circle cx="415" cy="288.2" r="2.45" fill="#c0c0c2" stroke="#2e2e2e" stroke-width="0.95"/>
<circle cx="418.4" cy="290.8" r="2.45" fill="#c0c0c2" stroke="#2e2e2e" stroke-width="0.95"/>
<circle cx="371.5" cy="291.6" r="2.45" fill="#c0c0c2" stroke="#2e2e2e" stroke-width="0.95"/>
<circle cx="380.8" cy="292.5" r="2.45" fill="#c0c0c2" stroke="#2e2e2e" stroke-width="0.95"/>
<circle cx="384.1" cy="292.3" r="2.45" fill="#c0c0c2" stroke="#2e2e2e" stroke-width="0.95"/>
<circle cx="424.1" cy="281.3" r="2.45" fill="#c0c0c2" stroke="#2e2e2e" stroke-width="0.95"/>
<circle cx="428.5" cy="283.2" r="2.45" fill="#c0c0c2" stroke="#2e2e2e" stroke-width="0.95"/>
<circle cx="445.1" cy="278.1" r="2.45" fill="#c0c0c2" stroke="#2e2e2e" stroke-width="0.95"/>
<circle cx="373" cy="261.1" r="2.45" fill="#c0c0c2" stroke="#2e2e2e" stroke-width="0.95"/>
<circle cx="377.8" cy="276.7" r="2.45" fill="#c0c0c2" stroke="#2e2e2e" stroke-width="0.95"/>
<circle cx="388" cy="280" r="2.45" fill="#c0c0c2" stroke="#2e2e2e" stroke-width="0.95"/>
<circle cx="395" cy="283" r="2.45" fill="#c0c0c2" stroke="#2e2e2e" stroke-width="0.95"/>
<circle cx="399" cy="268.5" r="2.45" fill="#c0c0c2" stroke="#2e2e2e" stroke-width="0.95"/>
<circle cx="388.5" cy="271.5" r="2.45" fill="#c0c0c2" stroke="#2e2e2e" stroke-width="0.95"/>
<circle cx="412" cy="273" r="2.45" fill="#c0c0c2" stroke="#2e2e2e" stroke-width="0.95"/>
<circle cx="398" cy="258" r="2.45" fill="#c0c0c2" stroke="#2e2e2e" stroke-width="0.95"/>
<circle cx="391" cy="258.5" r="2.45" fill="#c0c0c2" stroke="#2e2e2e" stroke-width="0.95"/>
<circle cx="409" cy="281" r="2.45" fill="#c0c0c2" stroke="#2e2e2e" stroke-width="0.95"/>
<circle cx="386.5" cy="287" r="2.45" fill="#c0c0c2" stroke="#2e2e2e" stroke-width="0.95"/>
<circle cx="396" cy="276" r="2.45" fill="#c0c0c2" stroke="#2e2e2e" stroke-width="0.95"/>
<circle cx="403" cy="268" r="2.45" fill="#c0c0c2" stroke="#2e2e2e" stroke-width="0.95"/>
<circle cx="390" cy="262" r="2.45" fill="#c0c0c2" stroke="#2e2e2e" stroke-width="0.95"/>
<circle cx="372" cy="285" r="2.45" fill="#c0c0c2" stroke="#2e2e2e" stroke-width="0.95"/>
<circle cx="376.4" cy="285.3" r="2.45" fill="#c0c0c2" stroke="#2e2e2e" stroke-width="0.95"/>
<circle cx="371.6" cy="291.5" r="2.45" fill="#c0c0c2" stroke="#2e2e2e" stroke-width="0.95"/>
<circle cx="409.8" cy="271.1" r="2.45" fill="#c0c0c2" stroke="#2e2e2e" stroke-width="0.95"/>
<circle cx="412" cy="277.5" r="2.45" fill="#c0c0c2" stroke="#2e2e2e" stroke-width="0.95"/>
<circle cx="415.8" cy="282.5" r="2.45" fill="#c0c0c2" stroke="#2e2e2e" stroke-width="0.95"/>
<circle cx="485" cy="247.6" r="2.45" fill="#d42030" stroke="#6a0a14" stroke-width="0.95"/>
<circle cx="486.9" cy="249" r="2.45" fill="#d42030" stroke="#6a0a14" stroke-width="0.95"/>
<circle cx="489.4" cy="249.9" r="2.45" fill="#d42030" stroke="#6a0a14" stroke-width="0.95"/>
<circle cx="494.2" cy="258.2" r="2.45" fill="#d42030" stroke="#6a0a14" stroke-width="0.95"/>
<circle cx="471.6" cy="268.4" r="2.45" fill="#d42030" stroke="#6a0a14" stroke-width="0.95"/>
<circle cx="470.2" cy="275.3" r="2.45" fill="#d42030" stroke="#6a0a14" stroke-width="0.95"/>
<circle cx="475.3" cy="279.3" r="2.45" fill="#d42030" stroke="#6a0a14" stroke-width="0.95"/>
<circle cx="476" cy="281.2" r="2.45" fill="#d42030" stroke="#6a0a14" stroke-width="0.95"/>
<circle cx="480.4" cy="283.6" r="2.45" fill="#d42030" stroke="#6a0a14" stroke-width="0.95"/>
<circle cx="491.3" cy="275.6" r="2.45" fill="#d42030" stroke="#6a0a14" stroke-width="0.95"/>
<circle cx="512.1" cy="274.5" r="2.45" fill="#d42030" stroke="#6a0a14" stroke-width="0.95"/>
<circle cx="519.6" cy="274.2" r="2.45" fill="#d42030" stroke="#6a0a14" stroke-width="0.95"/>
<line x1="61.2" y1="355.5" x2="61.2" y2="478.8" stroke="#5a5a5a" stroke-width="1.1"/>
<line x1="60.7" y1="355.5" x2="63.4" y2="355.5" stroke="#5a5a5a" stroke-width="1"/>
<line x1="60.7" y1="478.3" x2="254.5" y2="478.3" stroke="#444" stroke-width="1.1"/>
<line x1="61.2" y1="458.2" x2="63" y2="458.2" stroke="#222" stroke-width="0.9"/>
<line x1="61.2" y1="437.75" x2="63" y2="437.75" stroke="#222" stroke-width="0.9"/>
<line x1="61.2" y1="417.3" x2="63" y2="417.3" stroke="#222" stroke-width="0.9"/>
<line x1="61.2" y1="396.85" x2="63" y2="396.85" stroke="#222" stroke-width="0.9"/>
<line x1="61.2" y1="376.4" x2="63" y2="376.4" stroke="#222" stroke-width="0.9"/>
<line x1="61.2" y1="355.95" x2="63" y2="355.95" stroke="#222" stroke-width="0.9"/>
<text x="58.2" y="461.1" font-size="8" text-anchor="end" font-weight="normal" fill="#1a1a1a">0</text>
<text x="58.2" y="420.2" font-size="8" text-anchor="end" font-weight="normal" fill="#1a1a1a">0.2</text>
<text x="58.2" y="379.3" font-size="8" text-anchor="end" font-weight="normal" fill="#1a1a1a">0.4</text>
<line x1="61.5" y1="478.3" x2="61.5" y2="476.5" stroke="#222" stroke-width="0.9"/>
<text x="62.3" y="488.4" font-size="8" text-anchor="middle" font-weight="normal" fill="#1a1a1a">9</text>
<line x1="84.24" y1="478.3" x2="84.24" y2="476.5" stroke="#222" stroke-width="0.9"/>
<text x="85.04" y="488.4" font-size="8" text-anchor="middle" font-weight="normal" fill="#1a1a1a">8</text>
<line x1="106.98" y1="478.3" x2="106.98" y2="476.5" stroke="#222" stroke-width="0.9"/>
<text x="107.78" y="488.4" font-size="8" text-anchor="middle" font-weight="normal" fill="#1a1a1a">7</text>
<line x1="129.72" y1="478.3" x2="129.72" y2="476.5" stroke="#222" stroke-width="0.9"/>
<text x="130.52" y="488.4" font-size="8" text-anchor="middle" font-weight="normal" fill="#1a1a1a">6</text>
<line x1="152.46" y1="478.3" x2="152.46" y2="476.5" stroke="#222" stroke-width="0.9"/>
<text x="153.26" y="488.4" font-size="8" text-anchor="middle" font-weight="normal" fill="#1a1a1a">5</text>
<line x1="175.2" y1="478.3" x2="175.2" y2="476.5" stroke="#222" stroke-width="0.9"/>
<text x="176" y="488.4" font-size="8" text-anchor="middle" font-weight="normal" fill="#1a1a1a">4</text>
<line x1="197.94" y1="478.3" x2="197.94" y2="476.5" stroke="#222" stroke-width="0.9"/>
<text x="198.74" y="488.4" font-size="8" text-anchor="middle" font-weight="normal" fill="#1a1a1a">3</text>
<line x1="220.68" y1="478.3" x2="220.68" y2="476.5" stroke="#222" stroke-width="0.9"/>
<text x="221.48" y="488.4" font-size="8" text-anchor="middle" font-weight="normal" fill="#1a1a1a">2</text>
<line x1="243.42" y1="478.3" x2="243.42" y2="476.5" stroke="#222" stroke-width="0.9"/>
<text x="244.22" y="488.4" font-size="8" text-anchor="middle" font-weight="normal" fill="#1a1a1a">1</text>
<line x1="187.2" y1="458.2" x2="187.2" y2="470.4" stroke="#40b070" stroke-width="1.3"/>
<line x1="185.8" y1="458.2" x2="185.8" y2="466.5" stroke="#2a9a90" stroke-width="1.0"/>
<path d="M61.2 458.22 L61.45 458.43 L61.7 458.03 L61.95 458.38 L62.2 458.15 L62.45 458.15 L62.7 458.54 L62.95 458.23 L63.2 458.19 L63.45 458.33 L63.7 458.4 L63.95 458.19 L64.2 458.31 L64.45 458.02 L64.7 458.13 L64.95 458.12 L65.2 457.96 L65.45 457.93 L65.7 457.91 L65.95 458.16 L66.2 458.17 L66.45 458.14 L66.7 458.21 L66.95 457.96 L67.2 458.19 L67.45 458.24 L67.7 458.34 L67.95 458.05 L68.2 458.13 L68.45 457.84 L68.7 458.11 L68.95 457.8 L69.2 457.94 L69.45 458.4 L69.7 457.8 L69.95 458.34 L70.2 458.26 L70.45 458.14 L70.7 458.28 L70.95 458.29 L71.2 458.39 L71.45 458.16 L71.7 458.09 L71.95 458.09 L72.2 458.02 L72.45 458.19 L72.7 458.06 L72.95 458.39 L73.2 457.86 L73.45 458 L73.7 458.03 L73.95 457.82 L74.2 458.54 L74.45 457.77 L74.7 458.15 L74.95 458.11 L75.2 458.5 L75.45 457.84 L75.7 458.39 L75.95 458.07 L76.2 458.17 L76.45 458.08 L76.7 458.32 L76.95 458 L77.2 458.19 L77.45 458.26 L77.7 458.53 L77.95 457.77 L78.2 458.47 L78.45 458.37 L78.7 458.11 L78.95 458.25 L79.2 458.12 L79.45 458.5 L79.7 458.24 L79.95 458.16 L80.2 458.16 L80.45 458.16 L80.7 458.17 L80.95 458.04 L81.2 458.57 L81.45 457.86 L81.7 457.55 L81.95 458.18 L82.2 458.17 L82.45 458.27 L82.7 458.16 L82.95 458.17 L83.2 458.26 L83.45 458.37 L83.7 458.12 L83.95 458.13 L84.2 458.55 L84.45 458.3 L84.7 458.02 L84.95 458.62 L85.2 458.34 L85.45 458.09 L85.7 457.99 L85.95 458.25 L86.2 458.05 L86.45 458.01 L86.7 457.97 L86.95 458.11 L87.2 458.4 L87.45 458.12 L87.7 457.94 L87.95 458.32 L88.2 458.21 L88.45 458.35 L88.7 458.42 L88.95 458.17 L89.2 458.17 L89.45 458.19 L89.7 458 L89.95 458.32 L90.2 458.45 L90.45 458.23 L90.7 458.16 L90.95 458.15 L91.2 458.06 L91.45 458.06 L91.7 458.13 L91.95 458.05 L92.2 458.12 L92.45 457.92 L92.7 458.26 L92.95 458.21 L93.2 457.99 L93.45 457.79 L93.7 458.2 L93.95 458.4 L94.2 458.07 L94.45 458.11 L94.7 458.1 L94.95 458.32 L95.2 458.04 L95.45 458.38 L95.7 458.15 L95.95 458.37 L96.2 458.21 L96.45 458.16 L96.7 457.93 L96.95 458.08 L97.2 458.15 L97.45 458.32 L97.7 458.24 L97.95 458.07 L98.2 458.27 L98.45 458.38 L98.7 458.17 L98.95 458.12 L99.2 458.13 L99.45 458.35 L99.7 458.3 L99.95 458.03 L100.2 458.27 L100.45 458.11 L100.7 458.06 L100.95 458.42 L101.2 458.35 L101.45 458.07 L101.7 458.21 L101.95 458.29 L102.2 458.08 L102.45 458.18 L102.7 458.32 L102.95 457.88 L103.2 458.26 L103.45 458.33 L103.7 458.29 L103.95 457.96 L104.2 458.26 L104.45 458.04 L104.7 458.3 L104.95 458.31 L105.2 458.24 L105.45 458.06 L105.7 458.09 L105.95 458.35 L106.2 458.04 L106.45 458.29 L106.7 458.29 L106.95 458.15 L107.2 458.63 L107.45 458.21 L107.7 458.59 L107.95 457.84 L108.2 457.8 L108.45 458.38 L108.7 458.31 L108.95 458.14 L109.2 458.19 L109.45 457.86 L109.7 458.09 L109.95 458.01 L110.2 458.16 L110.45 458.36 L110.7 458.21 L110.95 458.27 L111.2 458.07 L111.45 458.12 L111.7 458.22 L111.95 458.15 L112.2 458.43 L112.45 458.04 L112.7 458.54 L112.95 458.02 L113.2 458.39 L113.45 458.06 L113.7 458.5 L113.95 458.22 L114.2 458.27 L114.45 458.33 L114.7 458.09 L114.95 458.01 L115.2 457.84 L115.45 458.42 L115.7 458.07 L115.95 458.09 L116.2 458.19 L116.45 458.56 L116.7 457.89 L116.95 458.24 L117.2 458.13 L117.45 458.3 L117.7 457.88 L117.95 458.13 L118.2 458.35 L118.45 458.48 L118.7 458.49 L118.95 458.05 L119.2 458.21 L119.45 458.18 L119.7 457.95 L119.95 457.94 L120.2 458.34 L120.45 458.24 L120.7 458.17 L120.95 458.42 L121.2 458.02 L121.45 458.29 L121.7 458.2 L121.95 458.19 L122.2 458.29 L122.45 458.23 L122.7 458.25 L122.95 458.25 L123.2 458.55 L123.45 458.14 L123.7 458.38 L123.95 458.31 L124.2 458.14 L124.45 458.34 L124.7 458.05 L124.95 458.41 L125.2 458.05 L125.45 458.11 L125.7 458.26 L125.95 458.35 L126.2 458.36 L126.45 458.36 L126.7 458.16 L126.95 458.03 L127.2 458.3 L127.45 458.25 L127.7 458.03 L127.95 458.38 L128.2 458.24 L128.45 458.03 L128.7 458.28 L128.95 457.96 L129.2 458.04 L129.45 458.27 L129.7 457.92 L129.95 458.21 L130.2 457.96 L130.45 458.33 L130.7 458.07 L130.95 458.23 L131.2 457.93 L131.45 458.14 L131.7 458.37 L131.95 458.28 L132.2 457.87 L132.45 458.37 L132.7 458.36 L132.95 458.13 L133.2 458.46 L133.45 458.01 L133.7 458.18 L133.95 458.4 L134.2 458.44 L134.45 458.43 L134.7 458 L134.95 457.88 L135.2 458.27 L135.45 457.94 L135.7 458.18 L135.95 457.97 L136.2 458.39 L136.45 458.34 L136.7 458.3 L136.95 458.2 L137.2 458.21 L137.45 458.15 L137.7 458.27 L137.95 458.24 L138.2 458.28 L138.45 458.12 L138.7 458.54 L138.95 458.25 L139.2 458.45 L139.45 458.44 L139.7 458.04 L139.95 457.9 L140.2 458.43 L140.45 458.13 L140.7 458.21 L140.95 458.15 L141.2 458.22 L141.45 457.99 L141.7 458.18 L141.95 458.12 L142.2 458.2 L142.45 457.78 L142.7 458.35 L142.95 458.26 L143.2 457.89 L143.45 458.07 L143.7 458.21 L143.95 458.31 L144.2 458.2 L144.45 458.45 L144.7 458.2 L144.95 458.02 L145.2 458.08 L145.45 458.33 L145.7 458.09 L145.95 458.35 L146.2 458.38 L146.45 458.31 L146.7 458.38 L146.95 458.17 L147.2 458.2 L147.45 458.09 L147.7 458.09 L147.95 457.92 L148.2 458.1 L148.45 458.01 L148.7 457.94 L148.95 458.23 L149.2 458.28 L149.45 458.14 L149.7 458.45 L149.95 458.37 L150.2 458.39 L150.45 458.09 L150.7 457.93 L150.95 458.3 L151.2 458.26 L151.45 458.33 L151.7 458.28 L151.95 458.43 L152.2 458.15 L152.45 458.32 L152.7 458.04 L152.95 457.78 L153.2 458.12 L153.45 458.47 L153.7 457.9 L153.95 458.38 L154.2 458.08 L154.45 458.13 L154.7 458.21 L154.95 458.24 L155.2 458.02 L155.45 458.22 L155.7 458.28 L155.95 458.35 L156.2 458.06 L156.45 458.48 L156.7 458.54 L156.95 458.63 L157.2 457.96 L157.45 458.23 L157.7 457.87 L157.95 458.27 L158.2 458.3 L158.45 457.99 L158.7 457.91 L158.95 458.23 L159.2 458.31 L159.45 458.06 L159.7 458.15 L159.95 457.75 L160.2 458.07 L160.45 458.23 L160.7 458.23 L160.95 458.48 L161.2 457.99 L161.45 457.79 L161.7 458.28 L161.95 458.09 L162.2 458.25 L162.45 458.33 L162.7 458.31 L162.95 458.46 L163.2 458.44 L163.45 457.9 L163.7 458.19 L163.95 458.56 L164.2 458.13 L164.45 458.37 L164.7 458.19 L164.95 458.12 L165.2 458.48 L165.45 458.39 L165.7 458.16 L165.95 458.36 L166.2 457.96 L166.45 458.07 L166.7 458.36 L166.95 458.21 L167.2 458.01 L167.45 458.28 L167.7 458.26 L167.95 458.43 L168.2 458.37 L168.45 458.15 L168.7 458.11 L168.95 458.18 L169.2 458.16 L169.45 458.46 L169.7 458.49 L169.95 458.44 L170.2 458.27 L170.45 458.16 L170.7 458.36 L170.95 458.14 L171.2 458.24 L171.45 457.9 L171.7 458.12 L171.95 458.46 L172.2 457.18 L172.45 455.01 L172.7 453.17 L172.95 455.58 L173.2 457.63 L173.45 458.14 L173.7 458.11 L173.95 458.35 L174.2 459.03 L174.45 460.04 L174.7 459.48 L174.95 458.43 L175.2 458.1 L175.45 457.94 L175.7 456.75 L175.95 455.62 L176.2 456.63 L176.45 457.89 L176.7 458.15 L176.95 458.84 L177.2 462.59 L177.45 466.04 L177.7 463.79 L177.95 460.6 L178.2 458.01 L178.45 458.49 L178.7 460.58 L178.95 462.62 L179.2 461.49 L179.45 459.55 L179.7 458.46 L179.95 459.07 L180.2 462.71 L180.45 466.22 L180.7 464.19 L180.95 460.28 L181.2 458.18 L181.45 458.13 L181.7 456.74 L181.95 455.41 L182.2 456.06 L182.45 457.45 L182.7 458.22 L182.95 458.37 L183.2 460.11 L183.45 462.03 L183.7 460.57 L183.95 459.12 L184.2 457.99 L184.45 458.19 L184.7 456.56 L184.95 455.08 L185.2 455.94 L185.45 457.88 L185.7 461.25 L185.95 463.41 L186.2 462.25 L186.45 459.81 L186.7 459.11 L186.95 462.43 L187.2 465.32 L187.45 462.01 L187.7 459.28 L187.95 458.73 L188.2 461.61 L188.45 464.69 L188.7 462.64 L188.95 459.91 L189.2 458.24 L189.45 458.5 L189.7 459.21 L189.95 459.99 L190.2 459.66 L190.45 458.34 L190.7 458.37 L190.95 457.85 L191.2 456.22 L191.45 454.91 L191.7 455.54 L191.95 456.96 L192.2 461.01 L192.45 464.51 L192.7 465.5 L192.95 461.62 L193.2 457.97 L193.45 458.36 L193.7 460.51 L193.95 461.87 L194.2 460.76 L194.45 459.02 L194.7 458 L194.95 458.17 L195.2 458.28 L195.45 458.24 L195.7 457.41 L195.95 456.42 L196.2 456.75 L196.45 457.55 L196.7 457.78 L196.95 458.02 L197.2 458.28 L197.45 458.24 L197.7 458.87 L197.95 459.06 L198.2 459.16 L198.45 458.55 L198.7 458.21 L198.95 458.27 L199.2 457.8 L199.45 458.1 L199.7 458.04 L199.95 458.43 L200.2 457.57 L200.45 457.01 L200.7 457.55 L200.95 457.71 L201.2 458.46 L201.45 458.07 L201.7 458.19 L201.95 458.04 L202.2 458.35 L202.45 457.92 L202.7 458.97 L202.95 459.24 L203.2 459.08 L203.45 458.32 L203.7 458.24 L203.95 458.23 L204.2 458.31 L204.45 458.26 L204.7 458.31 L204.95 458.25 L205.2 457.38 L205.45 456.61 L205.7 456.97 L205.95 457.95 L206.2 458.13 L206.45 458.54 L206.7 459.11 L206.95 459.67 L207.2 459.56 L207.45 459 L207.7 458.17 L207.95 457.9 L208.2 457.25 L208.45 456.89 L208.7 457.03 L208.95 457.73 L209.2 458.32 L209.45 457.95 L209.7 456.72 L209.95 455.35 L210.2 456.09 L210.45 457.75 L210.7 459.83 L210.95 461.24 L211.2 460.24 L211.45 459.06 L211.7 458.29 L211.95 457.88 L212.2 456.3 L212.45 454.72 L212.7 455.57 L212.95 458.96 L213.2 461.53 L213.45 461.41 L213.7 459.58 L213.95 459.39 L214.2 460.55 L214.45 460.55 L214.7 459.66 L214.95 458.28 L215.2 458.22 L215.45 458.15 L215.7 457.34 L215.95 456.84 L216.2 457.08 L216.45 457.41 L216.7 456.44 L216.95 454.94 L217.2 455.78 L217.45 458.49 L217.7 460.91 L217.95 460.4 L218.2 459.41 L218.45 457.87 L218.7 456.6 L218.95 455.41 L219.2 456.17 L219.45 457.17 L219.7 458.46 L219.95 459.32 L220.2 459.8 L220.45 458.82 L220.7 458.49 L220.95 458.19 L221.2 458.28 L221.45 458.53 L221.7 460.12 L221.95 461.73 L222.2 460.98 L222.45 459.24 L222.7 458.3 L222.95 458.13 L223.2 458.4 L223.45 458.17 L223.7 458.33 L223.95 457.74 L224.2 457.74 L224.45 457.27 L224.7 457.45 L224.95 458.18 L225.2 458.27 L225.45 458.17 L225.7 458.11 L225.95 458.54 L226.2 458.33 L226.45 458.42 L226.7 458.66 L226.95 459.53 L227.2 459.1 L227.45 458.45 L227.7 458.18 L227.95 457.91 L228.2 458.32 L228.45 458 L228.7 458.35 L228.95 458.04 L229.2 457.59 L229.45 457.35 L229.7 457.57 L229.95 457.75 L230.2 458.19 L230.45 458.31 L230.7 458.15 L230.95 457.96 L231.2 458.16 L231.45 458.19 L231.7 459.1 L231.95 460.04 L232.2 459.52 L232.45 457.91 L232.7 456.4 L232.95 456.91 L233.2 457.56 L233.45 458.13 L233.7 458.23 L233.95 458.55 L234.2 457.97 L234.45 457.91 L234.7 458.34 L234.95 458.06 L235.2 458.43 L235.45 454.9 L235.7 449.78 L235.95 446.89 L236.2 452.11 L236.45 457.65 L236.7 459.11 L236.95 458.93 L237.2 456.52 L237.45 453.81 L237.7 453.59 L237.95 455.91 L238.2 457.37 L238.45 456.38 L238.7 456.27 L238.95 456.12 L239.2 455.68 L239.45 455.94 L239.7 457.26 L239.95 458.77 L240.2 458.84 L240.45 459.53 L240.7 458.73 L240.95 458.65 L241.2 457.95 L241.45 457.88 L241.7 457.34 L241.95 456.8 L242.2 457.23 L242.45 457.89 L242.7 458.24 L242.95 457.83 L243.2 456.91 L243.45 455.06 L243.7 455.99 L243.95 459.6 L244.2 462.21 L244.45 461.75 L244.7 459.79 L244.95 458.53 L245.2 458.01 L245.45 458.03 L245.7 458.23 L245.95 458.96 L246.2 461.06 L246.45 462.53 L246.7 460.37 L246.95 458.48 L247.2 457.57 L247.45 456.62 L247.7 457.25 L247.95 457.71 L248.2 458 L248.45 458.22 L248.7 458.59 L248.95 458.86 L249.2 458.62 L249.45 458.57 L249.7 458.41 L249.95 458.3 L250.2 458.18 L250.45 458.01 L250.7 458.05 L250.95 458 L251.2 458.24 L251.45 458.36 L251.7 458.36 L251.95 458.2 L252.2 458.13 L252.45 458.23 L252.7 458.22 L252.95 458.31 L253.2 458.46 L253.45 458.08 L253.7 458.57 L253.95 457.83 L254.2 457.88 L254.45 457.93" fill="none" stroke="#000" stroke-width="1.25" stroke-linejoin="round"/>
<line x1="147.2" y1="458.2" x2="147.2" y2="465.7" stroke="#000" stroke-width="1.3"/>
<line x1="145.7" y1="458.8" x2="148.7" y2="458.8" stroke="#000" stroke-width="1.0"/>
<line x1="235.2" y1="456.5" x2="235.2" y2="367.8" stroke="#ede86a" stroke-width="1.9"/>
<line x1="172.4" y1="456" x2="172.4" y2="441.5" stroke="#f0c070" stroke-width="1.4"/>
<line x1="65.1" y1="458.2" x2="65.1" y2="361.8" stroke="#e3202c" stroke-width="2.6"/>
<path d="M65.1 355.8 L61.5 364 L68.7 364 Z" fill="#e3202c"/>
<line x1="65.1" y1="459" x2="65.1" y2="469.2" stroke="#4a4a4a" stroke-width="1.6"/>
<path d="M65.1 476.2 L62.4 468.2 L67.8 468.2 Z" fill="#4a4a4a"/>
<text x="72.6" y="411.8" font-size="7" text-anchor="middle" font-weight="normal" fill="#e3303c" transform="rotate(-90 72.6 411.8)">Vp3</text>
<text x="72.1" y="465.8" font-size="6.6" text-anchor="middle" font-weight="normal" fill="#8a8a8a" transform="rotate(-90 72.1 465.8)">Ref</text>
<path d="M172.2 439 L172.2 431.3 L232.4 442.3" fill="none" stroke="#000" stroke-width="1.3"/>
<text x="166.4" y="429.1" font-size="6.9" text-anchor="start" font-weight="normal" fill="#1a1a1a">Lactate</text>
<text x="173.3" y="476.7" font-size="6.7" text-anchor="start" font-weight="normal" fill="#1a1a1a">Glucose</text>
<defs><linearGradient id="pl1" x1="0" y1="1" x2="0" y2="0">
<stop offset="0" stop-color="rgb(53,42,135)"/>
<stop offset="0.1" stop-color="rgb(15,92,221)"/>
<stop offset="0.2" stop-color="rgb(18,125,216)"/>
<stop offset="0.3" stop-color="rgb(7,156,207)"/>
<stop offset="0.4" stop-color="rgb(21,177,180)"/>
<stop offset="0.5" stop-color="rgb(89,189,140)"/>
<stop offset="0.6" stop-color="rgb(165,190,107)"/>
<stop offset="0.7" stop-color="rgb(225,185,82)"/>
<stop offset="0.8" stop-color="rgb(252,206,46)"/>
<stop offset="0.9" stop-color="rgb(245,231,19)"/>
<stop offset="1" stop-color="rgb(249,251,14)"/>
</linearGradient></defs>
<rect x="256.2" y="355.3" width="3.2" height="122.7" fill="url(#pl1)" stroke="#222" stroke-width="0.5"/>
<line x1="256.2" y1="478" x2="257.2" y2="478" stroke="#222" stroke-width="0.6"/>
<text x="261.5" y="479.3" font-size="8" text-anchor="start" font-weight="normal" fill="#1a1a1a">0</text>
<line x1="256.2" y1="454.95" x2="257.2" y2="454.95" stroke="#222" stroke-width="0.6"/>
<text x="261.5" y="456.25" font-size="8" text-anchor="start" font-weight="normal" fill="#1a1a1a">0.1</text>
<line x1="256.2" y1="431.9" x2="257.2" y2="431.9" stroke="#222" stroke-width="0.6"/>
<text x="261.5" y="433.2" font-size="8" text-anchor="start" font-weight="normal" fill="#1a1a1a">0.2</text>
<line x1="256.2" y1="408.85" x2="257.2" y2="408.85" stroke="#222" stroke-width="0.6"/>
<text x="261.5" y="410.15" font-size="8" text-anchor="start" font-weight="normal" fill="#1a1a1a">0.3</text>
<line x1="256.2" y1="385.8" x2="257.2" y2="385.8" stroke="#222" stroke-width="0.6"/>
<text x="261.5" y="387.1" font-size="8" text-anchor="start" font-weight="normal" fill="#1a1a1a">0.4</text>
<line x1="256.2" y1="362.75" x2="257.2" y2="362.75" stroke="#222" stroke-width="0.6"/>
<text x="261.5" y="364.05" font-size="8" text-anchor="start" font-weight="normal" fill="#1a1a1a">0.5</text>
<text x="279.8" y="417.6" font-size="8" text-anchor="middle" font-weight="normal" fill="#1a1a1a" transform="rotate(-90 279.8 417.6)">Correlation</text>
<text x="39.2" y="411.6" font-size="8" text-anchor="middle" font-weight="normal" fill="#1a1a1a" transform="rotate(-90 39.2 411.6)">OPLS coefficients (a.u.)</text>
<text x="158.5" y="500.9" font-size="7.8" text-anchor="middle" fill="#1a1a1a"><tspan font-size="5.1" dy="-2.8">1</tspan><tspan dy="2.8">H Chemical Shift (ppm)</tspan></text>
<line x1="324.3" y1="356.2" x2="324.3" y2="478.1" stroke="#5a5a5a" stroke-width="1.1"/>
<line x1="323.8" y1="356.2" x2="326.5" y2="356.2" stroke="#5a5a5a" stroke-width="1"/>
<line x1="323.8" y1="477.6" x2="518" y2="477.6" stroke="#444" stroke-width="1.1"/>
<line x1="324.3" y1="457.1" x2="326.1" y2="457.1" stroke="#222" stroke-width="0.9"/>
<line x1="324.3" y1="437" x2="326.1" y2="437" stroke="#222" stroke-width="0.9"/>
<line x1="324.3" y1="416.9" x2="326.1" y2="416.9" stroke="#222" stroke-width="0.9"/>
<line x1="324.3" y1="396.8" x2="326.1" y2="396.8" stroke="#222" stroke-width="0.9"/>
<line x1="324.3" y1="376.7" x2="326.1" y2="376.7" stroke="#222" stroke-width="0.9"/>
<line x1="324.3" y1="356.6" x2="326.1" y2="356.6" stroke="#222" stroke-width="0.9"/>
<text x="321.3" y="458.8" font-size="8" text-anchor="end" font-weight="normal" fill="#1a1a1a">0</text>
<text x="321.3" y="418.6" font-size="8" text-anchor="end" font-weight="normal" fill="#1a1a1a">0.2</text>
<text x="321.3" y="378.4" font-size="8" text-anchor="end" font-weight="normal" fill="#1a1a1a">0.4</text>
<line x1="324.2" y1="477.6" x2="324.2" y2="475.8" stroke="#222" stroke-width="0.9"/>
<text x="325" y="487.8" font-size="8" text-anchor="middle" font-weight="normal" fill="#1a1a1a">9</text>
<line x1="346.96" y1="477.6" x2="346.96" y2="475.8" stroke="#222" stroke-width="0.9"/>
<text x="347.76" y="487.8" font-size="8" text-anchor="middle" font-weight="normal" fill="#1a1a1a">8</text>
<line x1="369.72" y1="477.6" x2="369.72" y2="475.8" stroke="#222" stroke-width="0.9"/>
<text x="370.52" y="487.8" font-size="8" text-anchor="middle" font-weight="normal" fill="#1a1a1a">7</text>
<line x1="392.48" y1="477.6" x2="392.48" y2="475.8" stroke="#222" stroke-width="0.9"/>
<text x="393.28" y="487.8" font-size="8" text-anchor="middle" font-weight="normal" fill="#1a1a1a">6</text>
<line x1="415.24" y1="477.6" x2="415.24" y2="475.8" stroke="#222" stroke-width="0.9"/>
<text x="416.04" y="487.8" font-size="8" text-anchor="middle" font-weight="normal" fill="#1a1a1a">5</text>
<line x1="438" y1="477.6" x2="438" y2="475.8" stroke="#222" stroke-width="0.9"/>
<text x="438.8" y="487.8" font-size="8" text-anchor="middle" font-weight="normal" fill="#1a1a1a">4</text>
<line x1="460.76" y1="477.6" x2="460.76" y2="475.8" stroke="#222" stroke-width="0.9"/>
<text x="461.56" y="487.8" font-size="8" text-anchor="middle" font-weight="normal" fill="#1a1a1a">3</text>
<line x1="483.52" y1="477.6" x2="483.52" y2="475.8" stroke="#222" stroke-width="0.9"/>
<text x="484.32" y="487.8" font-size="8" text-anchor="middle" font-weight="normal" fill="#1a1a1a">2</text>
<line x1="506.28" y1="477.6" x2="506.28" y2="475.8" stroke="#222" stroke-width="0.9"/>
<text x="507.08" y="487.8" font-size="8" text-anchor="middle" font-weight="normal" fill="#1a1a1a">1</text>
<line x1="443.5" y1="457.1" x2="443.5" y2="469.3" stroke="#60c0a0" stroke-width="1.8"/>
<line x1="449.7" y1="457.1" x2="449.7" y2="470.4" stroke="#e6c460" stroke-width="1.9"/>
<line x1="441.8" y1="457.1" x2="441.8" y2="467" stroke="#50b090" stroke-width="1.2"/>
<path d="M324.3 457.05 L324.55 457.19 L324.8 457.06 L325.05 457.04 L325.3 456.93 L325.55 457.06 L325.8 457.3 L326.05 457.18 L326.3 457.29 L326.55 457.14 L326.8 457.17 L327.05 457.13 L327.3 456.8 L327.55 457.25 L327.8 457.19 L328.05 457.19 L328.3 456.8 L328.55 456.79 L328.8 456.94 L329.05 457.02 L329.3 457.15 L329.55 457.09 L329.8 457.19 L330.05 456.98 L330.3 457.16 L330.55 457.17 L330.8 456.98 L331.05 457.41 L331.3 457.2 L331.55 457.32 L331.8 456.99 L332.05 456.97 L332.3 457.04 L332.55 457.08 L332.8 457.21 L333.05 457.14 L333.3 457.02 L333.55 456.93 L333.8 457.01 L334.05 457.32 L334.3 456.95 L334.55 457.14 L334.8 457.18 L335.05 456.83 L335.3 457.11 L335.55 457.34 L335.8 456.74 L336.05 457.04 L336.3 457.08 L336.55 456.95 L336.8 457.19 L337.05 457.09 L337.3 456.84 L337.55 457.25 L337.8 457.22 L338.05 457.27 L338.3 457.36 L338.55 457.17 L338.8 457.12 L339.05 456.87 L339.3 457.21 L339.55 456.99 L339.8 457.02 L340.05 456.87 L340.3 456.93 L340.55 457 L340.8 457.33 L341.05 456.73 L341.3 456.84 L341.55 457.14 L341.8 457.36 L342.05 457.2 L342.3 456.76 L342.55 456.65 L342.8 457.16 L343.05 456.97 L343.3 456.9 L343.55 457.28 L343.8 457.3 L344.05 457.13 L344.3 457.14 L344.55 457.18 L344.8 457.39 L345.05 457.21 L345.3 457.19 L345.55 457.2 L345.8 456.82 L346.05 457.33 L346.3 457.27 L346.55 457.2 L346.8 456.74 L347.05 456.99 L347.3 457.25 L347.55 456.77 L347.8 457.07 L348.05 457.28 L348.3 456.86 L348.55 457.39 L348.8 457.2 L349.05 457.07 L349.3 457.16 L349.55 457.22 L349.8 457.12 L350.05 457.31 L350.3 456.98 L350.55 457.03 L350.8 457.29 L351.05 457.1 L351.3 456.94 L351.55 457.27 L351.8 457.36 L352.05 457.02 L352.3 456.85 L352.55 457.08 L352.8 457.07 L353.05 457.05 L353.3 457.35 L353.55 456.92 L353.8 457.33 L354.05 456.87 L354.3 456.96 L354.55 457.21 L354.8 457.3 L355.05 457.25 L355.3 457.16 L355.55 457.13 L355.8 457.13 L356.05 457.2 L356.3 457.07 L356.55 457.15 L356.8 457.2 L357.05 457.1 L357.3 457.24 L357.55 457.2 L357.8 457.46 L358.05 457.16 L358.3 457.02 L358.55 457.03 L358.8 457.1 L359.05 457.27 L359.3 457.04 L359.55 457.17 L359.8 457.43 L360.05 456.64 L360.3 456.9 L360.55 457.14 L360.8 457.17 L361.05 457.14 L361.3 457.02 L361.55 457.22 L361.8 457.15 L362.05 457.01 L362.3 457.54 L362.55 457.16 L362.8 457 L363.05 457.08 L363.3 457.06 L363.55 457.09 L363.8 456.61 L364.05 457.01 L364.3 457.28 L364.55 456.89 L364.8 457.09 L365.05 457.27 L365.3 457.25 L365.55 457.37 L365.8 456.79 L366.05 457.04 L366.3 457.04 L366.55 457.21 L366.8 457.3 L367.05 456.62 L367.3 457.3 L367.55 456.84 L367.8 457.22 L368.05 456.83 L368.3 457.13 L368.55 457.32 L368.8 457.07 L369.05 457.13 L369.3 457.24 L369.55 457.13 L369.8 457.08 L370.05 457.38 L370.3 457.29 L370.55 457.05 L370.8 457.59 L371.05 456.89 L371.3 457.26 L371.55 457.05 L371.8 457.12 L372.05 457.23 L372.3 457.14 L372.55 457.21 L372.8 456.83 L373.05 456.83 L373.3 457.21 L373.55 456.93 L373.8 456.92 L374.05 456.84 L374.3 457.33 L374.55 457.23 L374.8 457.37 L375.05 456.93 L375.3 457.1 L375.55 456.89 L375.8 457.24 L376.05 457.39 L376.3 456.94 L376.55 457.38 L376.8 457.28 L377.05 457.07 L377.3 456.75 L377.55 457.35 L377.8 457.08 L378.05 456.99 L378.3 457.17 L378.55 457.17 L378.8 457.37 L379.05 456.92 L379.3 457.3 L379.55 457.37 L379.8 457.36 L380.05 457.07 L380.3 456.97 L380.55 457.28 L380.8 457.12 L381.05 457.12 L381.3 457.36 L381.55 457.05 L381.8 456.69 L382.05 457.03 L382.3 456.77 L382.55 457.25 L382.8 457.16 L383.05 456.99 L383.3 457.1 L383.55 457.25 L383.8 457.11 L384.05 457.34 L384.3 457.09 L384.55 457.29 L384.8 457.37 L385.05 457.39 L385.3 456.98 L385.55 457.26 L385.8 456.76 L386.05 456.9 L386.3 456.75 L386.55 457.29 L386.8 456.88 L387.05 457.1 L387.3 457.07 L387.55 457.09 L387.8 456.99 L388.05 457.14 L388.3 457.42 L388.55 457.11 L388.8 457.2 L389.05 457.28 L389.3 457.06 L389.55 456.87 L389.8 457 L390.05 457.29 L390.3 456.8 L390.55 456.99 L390.8 457.28 L391.05 457.24 L391.3 457.1 L391.55 457.24 L391.8 457.13 L392.05 456.89 L392.3 456.82 L392.55 456.98 L392.8 457.27 L393.05 457 L393.3 456.94 L393.55 456.96 L393.8 456.82 L394.05 457.08 L394.3 456.89 L394.55 457.17 L394.8 456.68 L395.05 457.16 L395.3 456.98 L395.55 456.75 L395.8 457.23 L396.05 457.05 L396.3 456.7 L396.55 456.94 L396.8 457.15 L397.05 457.02 L397.3 457.24 L397.55 457.23 L397.8 457.22 L398.05 457.16 L398.3 457.34 L398.55 457.22 L398.8 457.18 L399.05 456.72 L399.3 457.26 L399.55 457.34 L399.8 457.05 L400.05 457.02 L400.3 457.45 L400.55 456.78 L400.8 457.18 L401.05 457.54 L401.3 456.93 L401.55 457.22 L401.8 457.44 L402.05 457.08 L402.3 457.2 L402.55 457.26 L402.8 456.94 L403.05 457.08 L403.3 457.15 L403.55 457.25 L403.8 457.09 L404.05 457.06 L404.3 456.92 L404.55 457.04 L404.8 457.26 L405.05 457.12 L405.3 456.95 L405.55 456.95 L405.8 457.58 L406.05 457.31 L406.3 457.21 L406.55 456.63 L406.8 457.21 L407.05 457.19 L407.3 457.4 L407.55 457.18 L407.8 457.09 L408.05 457.19 L408.3 456.75 L408.55 457.29 L408.8 457.16 L409.05 456.97 L409.3 457.34 L409.55 457.43 L409.8 456.85 L410.05 456.98 L410.3 457.15 L410.55 457.13 L410.8 457.03 L411.05 456.92 L411.3 457.48 L411.55 457.29 L411.8 456.89 L412.05 456.86 L412.3 457.41 L412.55 457.28 L412.8 457.43 L413.05 457.25 L413.3 456.94 L413.55 457.15 L413.8 456.71 L414.05 456.97 L414.3 457.09 L414.55 457.19 L414.8 456.97 L415.05 457.08 L415.3 457.18 L415.55 457.17 L415.8 457.21 L416.05 457.14 L416.3 457.04 L416.55 457.24 L416.8 457.11 L417.05 456.95 L417.3 456.99 L417.55 457.1 L417.8 457.08 L418.05 457.13 L418.3 457.1 L418.55 457.13 L418.8 457.08 L419.05 456.87 L419.3 457.18 L419.55 457.29 L419.8 457.18 L420.05 457.07 L420.3 457.18 L420.55 456.93 L420.8 456.76 L421.05 457.11 L421.3 456.93 L421.55 457.23 L421.8 456.9 L422.05 456.63 L422.3 456.91 L422.55 457.38 L422.8 457.03 L423.05 456.85 L423.3 456.96 L423.55 457.19 L423.8 457.19 L424.05 457.13 L424.3 457.37 L424.55 457.23 L424.8 457.1 L425.05 457.21 L425.3 457.4 L425.55 457.27 L425.8 457.28 L426.05 456.91 L426.3 457.07 L426.55 457.23 L426.8 457.05 L427.05 457.29 L427.3 457.21 L427.55 457.26 L427.8 457.06 L428.05 457.56 L428.3 457.32 L428.55 457.06 L428.8 457.12 L429.05 457.57 L429.3 457.04 L429.55 457.26 L429.8 457.28 L430.05 457.1 L430.3 456.89 L430.55 457.13 L430.8 457.16 L431.05 457.3 L431.3 457.24 L431.55 457.1 L431.8 457.25 L432.05 457.2 L432.3 457.14 L432.55 457.11 L432.8 457.06 L433.05 457.22 L433.3 456.91 L433.55 456.99 L433.8 457.1 L434.05 456.84 L434.3 457.02 L434.55 456.74 L434.8 456.98 L435.05 457.2 L435.3 457.2 L435.55 456.79 L435.8 456.26 L436.05 455.74 L436.3 456.83 L436.55 457.09 L436.8 457.3 L437.05 456.94 L437.3 457.07 L437.55 457.52 L437.8 459.24 L438.05 460.02 L438.3 458.26 L438.55 457.34 L438.8 456.63 L439.05 454.74 L439.3 453.27 L439.55 454.87 L439.8 456.4 L440.05 459.35 L440.3 463.77 L440.55 466.31 L440.8 463.21 L441.05 461.56 L441.3 463.37 L441.55 460.81 L441.8 460.7 L442.05 463.38 L442.3 463.99 L442.55 460.45 L442.8 457.09 L443.05 458.6 L443.3 461.19 L443.55 462.31 L443.8 459.88 L444.05 458.18 L444.3 460.56 L444.55 463.46 L444.8 461.76 L445.05 458.5 L445.3 455.98 L445.55 454.87 L445.8 455.42 L446.05 455.55 L446.3 454.94 L446.55 453.68 L446.8 455.32 L447.05 457.84 L447.3 459.5 L447.55 460.8 L447.8 459.13 L448.05 459.69 L448.3 462.05 L448.55 461.54 L448.8 459.18 L449.05 458.21 L449.3 459.76 L449.55 460.61 L449.8 459.07 L450.05 457.42 L450.3 457.23 L450.55 459.53 L450.8 463.3 L451.05 465.56 L451.3 461.78 L451.55 457.76 L451.8 456.9 L452.05 456.33 L452.3 455.01 L452.55 454.37 L452.8 455.69 L453.05 456.78 L453.3 457.52 L453.55 459.29 L453.8 463.3 L454.05 465.37 L454.3 461.8 L454.55 457.42 L454.8 456.96 L455.05 456.14 L455.3 454.54 L455.55 453.85 L455.8 455.16 L456.05 457 L456.3 457.24 L456.55 458.27 L456.8 459.86 L457.05 460.74 L457.3 459.19 L457.55 457.24 L457.8 457.31 L458.05 456.92 L458.3 457.14 L458.55 456.73 L458.8 455.06 L459.05 454.35 L459.3 456.31 L459.55 458.6 L459.8 459.95 L460.05 458.9 L460.3 457.7 L460.55 457.53 L460.8 457.76 L461.05 458.52 L461.3 458 L461.55 457.2 L461.8 457.15 L462.05 457.02 L462.3 457.35 L462.55 456.47 L462.8 455.89 L463.05 455.18 L463.3 455.98 L463.55 457.06 L463.8 457.34 L464.05 457.1 L464.3 456.98 L464.55 457.55 L464.8 457.89 L465.05 458.26 L465.3 457.97 L465.55 457.4 L465.8 457.01 L466.05 457.51 L466.3 457.1 L466.55 457.87 L466.8 458.65 L467.05 459.38 L467.3 458.04 L467.55 457.63 L467.8 457.35 L468.05 456.88 L468.3 456.83 L468.55 456.41 L468.8 456.24 L469.05 455.55 L469.3 456.29 L469.55 456.91 L469.8 457.08 L470.05 456.9 L470.3 457.1 L470.55 456.14 L470.8 455.22 L471.05 454.59 L471.3 456.25 L471.55 458.46 L471.8 459.74 L472.05 458.76 L472.3 457.48 L472.55 458.08 L472.8 459.1 L473.05 459.65 L473.3 458.42 L473.55 457.21 L473.8 456.93 L474.05 456.64 L474.3 456.09 L474.55 455.73 L474.8 456.4 L475.05 457.34 L475.3 456.97 L475.55 456.35 L475.8 455.6 L476.05 454.01 L476.3 455.51 L476.55 457.38 L476.8 458.46 L477.05 459.01 L477.3 458.06 L477.55 457.33 L477.8 456.24 L478.05 455.29 L478.3 454.59 L478.55 456.61 L478.8 459.1 L479.05 459.66 L479.3 458.41 L479.55 457.46 L479.8 456.98 L480.05 457.51 L480.3 458.03 L480.55 458.26 L480.8 457.79 L481.05 457.18 L481.3 456.85 L481.55 456.79 L481.8 456.38 L482.05 455.9 L482.3 456.48 L482.55 457.13 L482.8 456.94 L483.05 457.22 L483.3 457.44 L483.55 457.2 L483.8 457.66 L484.05 457.81 L484.3 457.78 L484.55 457.22 L484.8 457.26 L485.05 456.98 L485.3 457.1 L485.55 457.1 L485.8 456.78 L486.05 457.06 L486.3 456.46 L486.55 455.69 L486.8 456.63 L487.05 456.98 L487.3 457.18 L487.55 457.17 L487.8 456.83 L488.05 457.26 L488.3 457.9 L488.55 457.73 L488.8 457.32 L489.05 456.92 L489.3 456.88 L489.55 457.16 L489.8 457.4 L490.05 457.18 L490.3 457.14 L490.55 457.3 L490.8 456.47 L491.05 456.25 L491.3 456.8 L491.55 457.13 L491.8 456.92 L492.05 456.89 L492.3 457.15 L492.55 457.47 L492.8 457.73 L493.05 458.26 L493.3 457.65 L493.55 457.29 L493.8 457.08 L494.05 457.08 L494.3 457.04 L494.55 457.09 L494.8 456.82 L495.05 456.3 L495.3 456.85 L495.55 456.9 L495.8 457.11 L496.05 457.53 L496.3 458.17 L496.55 458.13 L496.8 457.69 L497.05 456.94 L497.3 456.03 L497.55 456 L497.8 456.38 L498.05 457.07 L498.3 456.9 L498.55 456.74 L498.8 457.11 L499.05 456.46 L499.3 452.85 L499.55 449.65 L499.8 451.52 L500.05 455.23 L500.3 459.09 L500.55 460.3 L500.8 459.51 L501.05 458.05 L501.3 456.34 L501.55 453.86 L501.8 451.66 L502.05 453.61 L502.3 455.24 L502.55 455.57 L502.8 455.64 L503.05 457.03 L503.3 456.98 L503.55 456.35 L503.8 455.13 L504.05 454.53 L504.3 455.38 L504.55 456.47 L504.8 457.21 L505.05 457.24 L505.3 457.21 L505.55 458.32 L505.8 459.14 L506.05 459.9 L506.3 458.77 L506.55 457.42 L506.8 457.4 L507.05 456.38 L507.3 455.7 L507.55 454.65 L507.8 456.25 L508.05 456.87 L508.3 458.18 L508.55 460.7 L508.8 462.6 L509.05 460.26 L509.3 457.93 L509.55 456.95 L509.8 456.99 L510.05 457.02 L510.3 456.57 L510.55 456.38 L510.8 456.67 L511.05 457.2 L511.3 457.19 L511.55 457.07 L511.8 457.22 L512.05 457.07 L512.3 456.89 L512.55 457.36 L512.8 457.18 L513.05 456.93 L513.3 457.29 L513.55 457.16 L513.8 456.82 L514.05 457.39 L514.3 457.16 L514.55 457.26 L514.8 457.14 L515.05 457.07 L515.3 456.82 L515.55 457.27 L515.8 457.11 L516.05 457.05 L516.3 457.16 L516.55 457.11 L516.8 457.22 L517.05 457.03 L517.3 457.09 L517.55 456.71 L517.8 457.02" fill="none" stroke="#000" stroke-width="1.25" stroke-linejoin="round"/>
<line x1="410" y1="457.1" x2="410" y2="464.6" stroke="#000" stroke-width="1.3"/>
<line x1="408.5" y1="457.7" x2="411.5" y2="457.7" stroke="#000" stroke-width="1.0"/>
<line x1="498.9" y1="456" x2="498.9" y2="361.6" stroke="#ede86a" stroke-width="1.8"/>
<line x1="435.3" y1="456" x2="435.3" y2="439" stroke="#f0dc78" stroke-width="2.0"/>
<line x1="328.7" y1="457.1" x2="328.7" y2="364.2" stroke="#e3202c" stroke-width="2.6"/>
<path d="M328.7 358.2 L325.1 366.4 L332.3 366.4 Z" fill="#e3202c"/>
<line x1="328.7" y1="457.9" x2="328.7" y2="468.1" stroke="#4a4a4a" stroke-width="1.6"/>
<path d="M328.7 475.1 L326 467.1 L331.4 467.1 Z" fill="#4a4a4a"/>
<text x="337.1" y="411.5" font-size="7" text-anchor="middle" font-weight="normal" fill="#e3303c" transform="rotate(-90 337.1 411.5)">Vp3</text>
<text x="335.7" y="465.2" font-size="6.6" text-anchor="middle" font-weight="normal" fill="#8a8a8a" transform="rotate(-90 335.7 465.2)">Ref</text>
<path d="M436 437.5 L436 429.3 L496.4 440" fill="none" stroke="#000" stroke-width="1.3"/>
<text x="430.6" y="426.6" font-size="6.9" text-anchor="start" font-weight="normal" fill="#1a1a1a">Lactate</text>
<text x="436.6" y="476.6" font-size="6.7" text-anchor="start" font-weight="normal" fill="#1a1a1a">Glucose</text>
<defs><linearGradient id="pl2" x1="0" y1="1" x2="0" y2="0">
<stop offset="0" stop-color="rgb(53,42,135)"/>
<stop offset="0.1" stop-color="rgb(15,92,221)"/>
<stop offset="0.2" stop-color="rgb(18,125,216)"/>
<stop offset="0.3" stop-color="rgb(7,156,207)"/>
<stop offset="0.4" stop-color="rgb(21,177,180)"/>
<stop offset="0.5" stop-color="rgb(89,189,140)"/>
<stop offset="0.6" stop-color="rgb(165,190,107)"/>
<stop offset="0.7" stop-color="rgb(225,185,82)"/>
<stop offset="0.8" stop-color="rgb(252,206,46)"/>
<stop offset="0.9" stop-color="rgb(245,231,19)"/>
<stop offset="1" stop-color="rgb(249,251,14)"/>
</linearGradient></defs>
<rect x="519.7" y="355.1" width="3.2" height="122.4" fill="url(#pl2)" stroke="#222" stroke-width="0.5"/>
<line x1="519.7" y1="477.5" x2="520.7" y2="477.5" stroke="#222" stroke-width="0.6"/>
<text x="525" y="478.8" font-size="8" text-anchor="start" font-weight="normal" fill="#1a1a1a">0</text>
<line x1="519.7" y1="454.45" x2="520.7" y2="454.45" stroke="#222" stroke-width="0.6"/>
<text x="525" y="455.75" font-size="8" text-anchor="start" font-weight="normal" fill="#1a1a1a">0.1</text>
<line x1="519.7" y1="431.4" x2="520.7" y2="431.4" stroke="#222" stroke-width="0.6"/>
<text x="525" y="432.7" font-size="8" text-anchor="start" font-weight="normal" fill="#1a1a1a">0.2</text>
<line x1="519.7" y1="408.35" x2="520.7" y2="408.35" stroke="#222" stroke-width="0.6"/>
<text x="525" y="409.65" font-size="8" text-anchor="start" font-weight="normal" fill="#1a1a1a">0.3</text>
<line x1="519.7" y1="385.3" x2="520.7" y2="385.3" stroke="#222" stroke-width="0.6"/>
<text x="525" y="386.6" font-size="8" text-anchor="start" font-weight="normal" fill="#1a1a1a">0.4</text>
<line x1="519.7" y1="362.25" x2="520.7" y2="362.25" stroke="#222" stroke-width="0.6"/>
<text x="525" y="363.55" font-size="8" text-anchor="start" font-weight="normal" fill="#1a1a1a">0.5</text>
<text x="545.6" y="416.8" font-size="8" text-anchor="middle" font-weight="normal" fill="#1a1a1a" transform="rotate(-90 545.6 416.8)">Correlation</text>
<text x="304.1" y="408.9" font-size="8" text-anchor="middle" font-weight="normal" fill="#1a1a1a" transform="rotate(-90 304.1 408.9)">OPLS coefficients (a.u.)</text>
<text x="428.6" y="500.9" font-size="7.8" text-anchor="middle" fill="#1a1a1a"><tspan font-size="5.1" dy="-2.8">1</tspan><tspan dy="2.8">H Chemical Shift (ppm)</tspan></text>
</svg>
</body></html>
